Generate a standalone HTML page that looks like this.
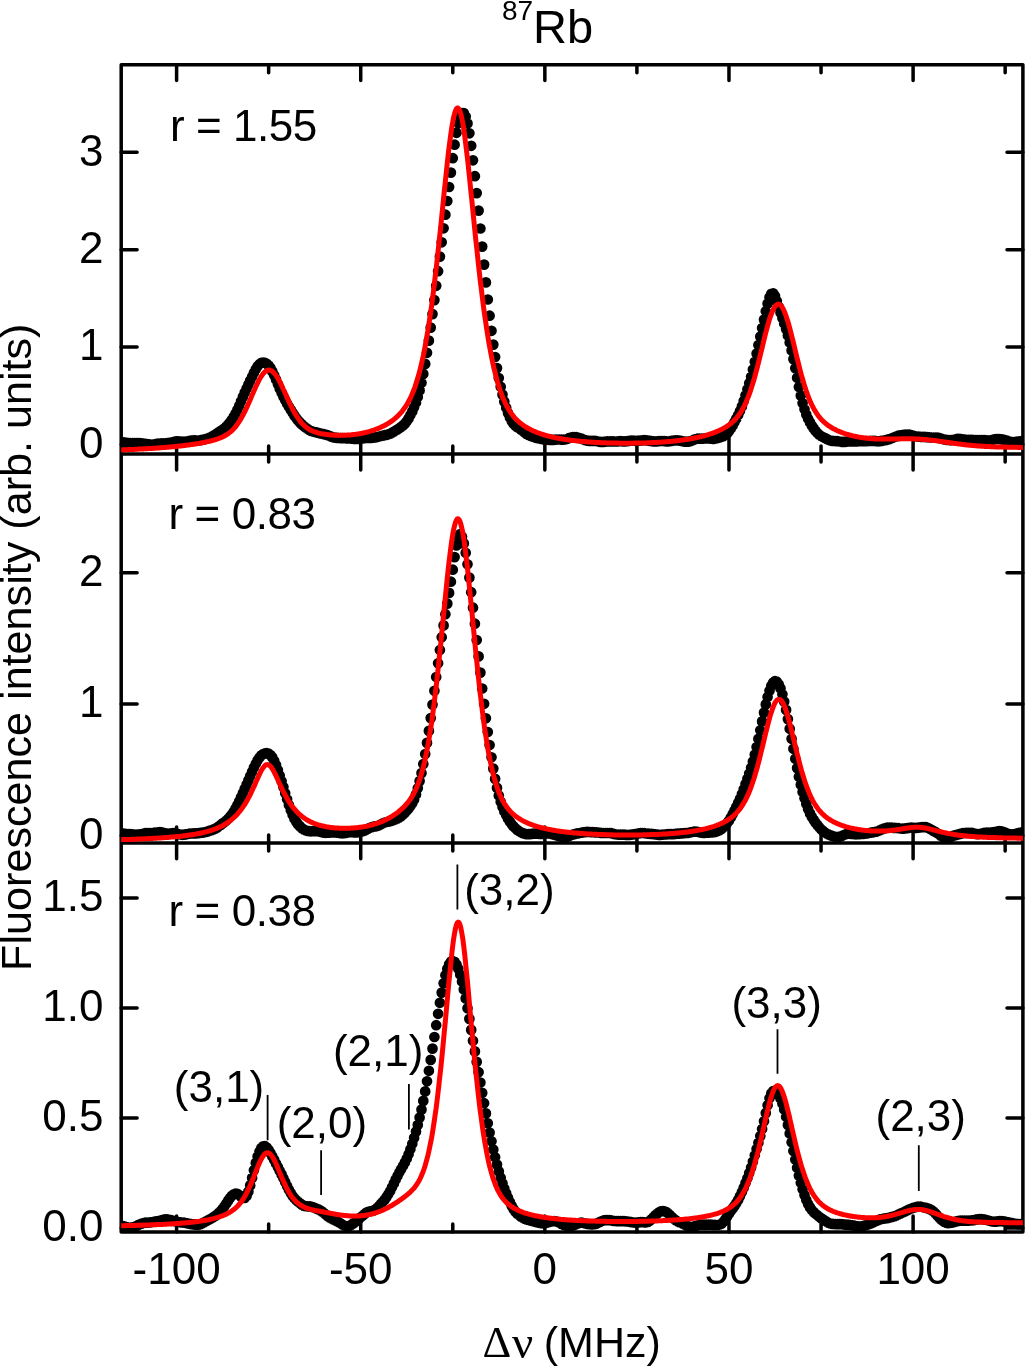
<!DOCTYPE html>
<html><head><meta charset="utf-8"><title>87Rb fluorescence spectra</title>
<style>html,body{margin:0;padding:0;background:#fff;overflow:hidden}svg{display:block}</style>
</head><body>
<svg width="1025" height="1367" viewBox="0 0 1025 1367">
<rect width="100%" height="100%" fill="#fff"/>
<defs><clipPath id="c0"><rect x="121.2" y="64.7" width="901.6999999999999" height="389.3"/></clipPath><clipPath id="c1"><rect x="121.2" y="454.0" width="901.6999999999999" height="388.9"/></clipPath><clipPath id="c2"><rect x="121.2" y="842.9" width="901.6999999999999" height="389.05000000000007"/></clipPath></defs>
<path d="M176.60 64.70v15.9M176.60 438.10v31.8M176.60 827.00v31.8M176.60 1216.05v15.9M268.66 64.70v8.0M268.66 446.00v16.0M268.66 834.90v16.0M268.66 1223.95v8.0M360.73 64.70v15.9M360.73 438.10v31.8M360.73 827.00v31.8M360.73 1216.05v15.9M452.79 64.70v8.0M452.79 446.00v16.0M452.79 834.90v16.0M452.79 1223.95v8.0M544.85 64.70v15.9M544.85 438.10v31.8M544.85 827.00v31.8M544.85 1216.05v15.9M636.91 64.70v8.0M636.91 446.00v16.0M636.91 834.90v16.0M636.91 1223.95v8.0M728.98 64.70v15.9M728.98 438.10v31.8M728.98 827.00v31.8M728.98 1216.05v15.9M821.04 64.70v8.0M821.04 446.00v16.0M821.04 834.90v16.0M821.04 1223.95v8.0M913.10 64.70v15.9M913.10 438.10v31.8M913.10 827.00v31.8M913.10 1216.05v15.9M1005.16 64.70v8.0M1005.16 446.00v16.0M1005.16 834.90v16.0M1005.16 1223.95v8.0M121.20 444.40h15.9M1022.90 444.40h-15.9M121.20 347.05h15.9M1022.90 347.05h-15.9M121.20 249.70h15.9M1022.90 249.70h-15.9M121.20 152.35h15.9M1022.90 152.35h-15.9M121.20 835.55h15.9M1022.90 835.55h-15.9M121.20 704.10h15.9M1022.90 704.10h-15.9M121.20 572.65h15.9M1022.90 572.65h-15.9M121.20 1227.95h15.9M1022.90 1227.95h-15.9M121.20 1117.95h15.9M1022.90 1117.95h-15.9M121.20 1007.95h15.9M1022.90 1007.95h-15.9M121.20 897.95h15.9M1022.90 897.95h-15.9" stroke="#000" stroke-width="3.5" stroke-linecap="round" fill="none"/>
<path d="M121.2 64.7H1022.9V1231.95H121.2Z M121.2 454.0H1022.9 M121.2 842.9H1022.9" stroke="#000" stroke-width="3.5" stroke-linejoin="round" fill="none"/>
<g clip-path="url(#c0)"><path d="M117.7 442.0h0M119.5 442.0h0M121.4 442.1h0M123.2 442.3h0M125.0 442.6h0M126.9 442.8h0M128.7 443.0h0M130.6 443.0h0M132.4 443.0h0M134.3 443.0h0M136.1 443.0h0M137.9 443.0h0M139.8 443.2h0M141.6 443.4h0M143.5 443.7h0M145.3 443.9h0M147.1 444.2h0M149.0 444.4h0M150.8 444.6h0M152.7 444.5h0M154.5 444.3h0M156.3 443.9h0M158.2 443.6h0M160.0 443.5h0M161.9 443.4h0M163.7 443.4h0M165.6 443.3h0M167.4 443.2h0M169.2 442.9h0M171.1 442.6h0M172.9 442.1h0M174.8 441.7h0M176.6 441.4h0M178.4 441.4h0M180.3 441.5h0M182.1 441.7h0M184.0 441.8h0M185.8 441.7h0M187.6 441.3h0M189.5 440.9h0M191.3 440.5h0M193.2 440.3h0M195.0 440.4h0M196.9 440.5h0M198.7 440.5h0M200.5 440.2h0M202.4 439.8h0M204.2 439.3h0M206.1 438.8h0M207.9 438.3h0M209.7 437.6h0M211.6 436.7h0M213.4 435.7h0M215.3 434.6h0M217.1 433.3h0M218.9 432.1h0M220.8 430.9h0M222.6 429.7h0M224.5 428.3h0M226.3 426.6h0M228.2 424.6h0M230.0 422.3h0M231.8 419.7h0M233.7 416.8h0M235.5 413.5h0M237.4 409.8h0M239.2 405.7h0M241.0 401.3h0M242.9 396.9h0M244.7 392.6h0M246.6 388.5h0M248.4 384.5h0M250.2 380.6h0M252.1 376.7h0M253.9 372.8h0M255.8 369.2h0M257.6 366.3h0M259.5 364.2h0M261.3 362.9h0M263.1 362.5h0M265.0 362.8h0M266.8 363.8h0M268.7 365.6h0M270.5 368.1h0M272.3 371.4h0M274.2 375.3h0M276.0 379.5h0M277.9 384.1h0M279.7 388.6h0M281.6 392.8h0M283.4 396.8h0M285.2 400.3h0M287.1 403.7h0M288.9 406.8h0M290.8 409.9h0M292.6 412.8h0M294.4 415.6h0M296.3 418.2h0M298.1 420.5h0M300.0 422.6h0M301.8 424.4h0M303.6 426.0h0M305.5 427.5h0M307.3 428.8h0M309.2 430.0h0M311.0 430.9h0M312.9 431.5h0M314.7 432.0h0M316.5 432.4h0M318.4 432.9h0M320.2 433.4h0M322.1 433.8h0M323.9 434.2h0M325.7 434.6h0M327.6 435.1h0M329.4 435.8h0M331.3 436.6h0M333.1 437.3h0M334.9 437.7h0M336.8 437.9h0M338.6 438.0h0M340.5 438.1h0M342.3 438.2h0M344.2 438.2h0M346.0 438.3h0M347.8 438.3h0M349.7 438.4h0M351.5 438.6h0M353.4 438.8h0M355.2 438.9h0M357.0 439.0h0M358.9 439.0h0M360.7 438.8h0M362.6 438.5h0M364.4 438.1h0M366.2 437.9h0M368.1 437.8h0M369.9 437.8h0M371.8 437.8h0M373.6 437.7h0M375.5 437.4h0M377.3 437.0h0M379.1 436.5h0M381.0 436.0h0M382.8 435.6h0M384.7 435.2h0M386.5 434.9h0M388.3 434.3h0M390.2 433.6h0M392.0 432.7h0M393.9 431.6h0M395.7 430.5h0M397.6 429.4h0M399.4 428.2h0M401.2 426.9h0M403.1 425.4h0M404.9 423.6h0M406.8 421.2h0M408.6 418.4h0M410.4 415.0h0M412.3 411.4h0M414.1 407.3h0M416.0 402.5h0M417.8 397.0h0M419.6 390.4h0M421.5 382.7h0M423.3 373.9h0M425.2 363.9h0M427.0 352.8h0M428.9 340.6h0M430.7 327.6h0M432.5 314.1h0M434.4 300.1h0M436.2 285.8h0M438.1 271.2h0M439.9 256.6h0M441.7 242.3h0M443.6 228.3h0M445.4 214.7h0M447.3 201.0h0M449.1 187.0h0M450.9 172.6h0M452.8 158.2h0M454.6 144.7h0M456.5 132.8h0M458.3 123.3h0M460.2 116.6h0M462.0 113.1h0M463.8 113.0h0M465.7 116.5h0M467.5 123.4h0M469.4 133.3h0M471.2 145.8h0M473.0 160.3h0M474.9 176.2h0M476.7 193.1h0M478.6 210.6h0M480.4 228.5h0M482.2 246.6h0M484.1 264.6h0M485.9 282.4h0M487.8 299.5h0M489.6 315.7h0M491.5 330.8h0M493.3 344.6h0M495.1 357.0h0M497.0 368.1h0M498.8 378.0h0M500.7 386.8h0M502.5 394.6h0M504.3 401.6h0M506.2 407.8h0M508.0 413.1h0M509.9 417.5h0M511.7 421.1h0M513.5 423.8h0M515.4 425.8h0M517.2 427.2h0M519.1 428.3h0M520.9 429.6h0M522.8 431.0h0M524.6 432.5h0M526.4 433.9h0M528.3 435.0h0M530.1 435.8h0M532.0 436.4h0M533.8 437.0h0M535.6 437.6h0M537.5 438.1h0M539.3 438.5h0M541.2 439.0h0M543.0 439.3h0M544.9 439.6h0M546.7 439.7h0M548.5 439.8h0M550.4 439.8h0M552.2 439.8h0M554.1 439.8h0M555.9 439.6h0M557.7 439.5h0M559.6 439.5h0M561.4 439.6h0M563.3 439.7h0M565.1 439.5h0M566.9 439.0h0M568.8 438.2h0M570.6 437.5h0M572.5 437.1h0M574.3 437.0h0M576.2 437.2h0M578.0 437.6h0M579.8 438.1h0M581.7 438.7h0M583.5 439.5h0M585.4 440.1h0M587.2 440.6h0M589.0 440.9h0M590.9 440.9h0M592.7 440.8h0M594.6 440.8h0M596.4 441.0h0M598.2 441.5h0M600.1 441.9h0M601.9 442.0h0M603.8 441.9h0M605.6 441.7h0M607.5 441.4h0M609.3 441.3h0M611.1 441.3h0M613.0 441.4h0M614.8 441.5h0M616.7 441.5h0M618.5 441.3h0M620.3 441.2h0M622.2 441.3h0M624.0 441.3h0M625.9 441.3h0M627.7 441.1h0M629.5 440.8h0M631.4 440.7h0M633.2 440.7h0M635.1 440.8h0M636.9 440.8h0M638.8 440.6h0M640.6 440.5h0M642.4 440.3h0M644.3 440.2h0M646.1 440.3h0M648.0 440.5h0M649.8 440.9h0M651.6 441.2h0M653.5 441.4h0M655.3 441.5h0M657.2 441.3h0M659.0 441.1h0M660.8 441.0h0M662.7 441.0h0M664.5 441.2h0M666.4 441.4h0M668.2 441.5h0M670.1 441.2h0M671.9 440.9h0M673.7 440.5h0M675.6 440.3h0M677.4 440.3h0M679.3 440.5h0M681.1 440.9h0M682.9 441.3h0M684.8 441.6h0M686.6 441.7h0M688.5 441.6h0M690.3 441.2h0M692.2 440.5h0M694.0 439.7h0M695.8 439.0h0M697.7 438.6h0M699.5 438.6h0M701.4 438.7h0M703.2 438.6h0M705.0 438.5h0M706.9 438.5h0M708.7 438.5h0M710.6 438.7h0M712.4 438.8h0M714.2 438.8h0M716.1 438.5h0M717.9 438.0h0M719.8 437.5h0M721.6 436.8h0M723.5 436.1h0M725.3 435.0h0M727.1 433.4h0M729.0 431.3h0M730.8 428.5h0M732.7 425.4h0M734.5 422.1h0M736.3 418.6h0M738.2 415.0h0M740.0 411.0h0M741.9 406.4h0M743.7 401.1h0M745.5 395.3h0M747.4 389.3h0M749.2 383.2h0M751.1 376.7h0M752.9 369.6h0M754.8 361.8h0M756.6 353.6h0M758.4 345.1h0M760.3 336.6h0M762.1 328.1h0M764.0 319.6h0M765.8 311.3h0M767.6 303.6h0M769.5 297.4h0M771.3 293.8h0M773.2 293.3h0M775.0 296.1h0M776.8 301.0h0M778.7 306.8h0M780.5 312.6h0M782.4 318.1h0M784.2 323.4h0M786.1 329.1h0M787.9 335.4h0M789.7 342.5h0M791.6 350.4h0M793.4 359.1h0M795.3 368.3h0M797.1 377.8h0M798.9 387.0h0M800.8 395.6h0M802.6 403.1h0M804.5 409.3h0M806.3 414.5h0M808.1 418.8h0M810.0 422.4h0M811.8 425.6h0M813.7 428.4h0M815.5 430.9h0M817.4 433.0h0M819.2 434.7h0M821.0 436.0h0M822.9 437.0h0M824.7 437.9h0M826.6 438.9h0M828.4 439.8h0M830.2 440.5h0M832.1 440.9h0M833.9 441.0h0M835.8 441.1h0M837.6 441.2h0M839.5 441.5h0M841.3 441.8h0M843.1 441.9h0M845.0 441.9h0M846.8 441.7h0M848.7 441.5h0M850.5 441.3h0M852.3 441.3h0M854.2 441.3h0M856.0 441.3h0M857.9 441.3h0M859.7 441.2h0M861.5 441.2h0M863.4 441.2h0M865.2 441.2h0M867.1 441.2h0M868.9 441.0h0M870.8 440.8h0M872.6 440.8h0M874.4 440.9h0M876.3 441.1h0M878.1 441.3h0M880.0 441.2h0M881.8 440.9h0M883.6 440.5h0M885.5 440.1h0M887.3 439.6h0M889.2 439.1h0M891.0 438.5h0M892.8 437.8h0M894.7 437.0h0M896.5 436.3h0M898.4 435.7h0M900.2 435.4h0M902.1 435.0h0M903.9 434.8h0M905.7 434.6h0M907.6 434.6h0M909.4 434.7h0M911.3 435.1h0M913.1 435.6h0M914.9 436.1h0M916.8 436.5h0M918.6 436.7h0M920.5 436.8h0M922.3 436.8h0M924.1 436.9h0M926.0 437.1h0M927.8 437.2h0M929.7 437.3h0M931.5 437.5h0M933.4 437.5h0M935.2 437.6h0M937.0 437.6h0M938.9 437.9h0M940.7 438.4h0M942.6 439.0h0M944.4 439.5h0M946.2 439.8h0M948.1 440.0h0M949.9 440.1h0M951.8 440.1h0M953.6 439.8h0M955.4 439.3h0M957.3 438.9h0M959.1 438.8h0M961.0 439.1h0M962.8 439.4h0M964.7 439.7h0M966.5 439.8h0M968.3 439.8h0M970.2 439.8h0M972.0 439.9h0M973.9 440.0h0M975.7 440.1h0M977.5 440.2h0M979.4 440.2h0M981.2 440.2h0M983.1 440.1h0M984.9 440.1h0M986.8 440.3h0M988.6 440.5h0M990.4 440.3h0M992.3 439.9h0M994.1 439.4h0M996.0 439.0h0M997.8 439.0h0M999.6 439.1h0M1001.5 439.4h0M1003.3 439.6h0M1005.2 440.0h0M1007.0 440.6h0M1008.8 441.3h0M1010.7 441.9h0M1012.5 442.1h0M1014.4 442.1h0M1016.2 441.8h0M1018.1 441.5h0M1019.9 441.3h0M1021.7 441.2h0M1023.6 441.2h0M1025.4 441.3h0" stroke="#000" stroke-width="10.7" stroke-linecap="round" fill="none"/>
<path d="M117.5 450.1 118.4 450.0 119.4 450.0 120.3 450.0 121.2 449.9 122.1 449.9 123.0 449.8 124.0 449.8 124.9 449.8 125.8 449.7 126.7 449.7 127.6 449.7 128.6 449.6 129.5 449.6 130.4 449.5 131.3 449.5 132.2 449.5 133.2 449.4 134.1 449.4 135.0 449.3 135.9 449.3 136.9 449.2 137.8 449.2 138.7 449.1 139.6 449.1 140.5 449.0 141.5 449.0 142.4 448.9 143.3 448.9 144.2 448.8 145.1 448.8 146.1 448.7 147.0 448.7 147.9 448.6 148.8 448.6 149.7 448.5 150.7 448.5 151.6 448.4 152.5 448.4 153.4 448.3 154.3 448.2 155.3 448.2 156.2 448.1 157.1 448.0 158.0 448.0 158.9 447.9 159.9 447.8 160.8 447.8 161.7 447.7 162.6 447.6 163.5 447.6 164.5 447.5 165.4 447.4 166.3 447.3 167.2 447.3 168.2 447.2 169.1 447.1 170.0 447.0 170.9 446.9 171.8 446.8 172.8 446.8 173.7 446.7 174.6 446.6 175.5 446.5 176.4 446.4 177.4 446.3 178.3 446.2 179.2 446.1 180.1 446.0 181.0 445.9 182.0 445.8 182.9 445.7 183.8 445.6 184.7 445.5 185.6 445.3 186.6 445.2 187.5 445.1 188.4 445.0 189.3 444.9 190.2 444.7 191.2 444.6 192.1 444.5 193.0 444.3 193.9 444.2 194.9 444.0 195.8 443.9 196.7 443.8 197.6 443.6 198.5 443.4 199.5 443.3 200.4 443.1 201.3 443.0 202.2 442.8 203.1 442.6 204.1 442.4 205.0 442.2 205.9 442.0 206.8 441.8 207.7 441.6 208.7 441.4 209.6 441.2 210.5 441.0 211.4 440.8 212.3 440.5 213.3 440.3 214.2 440.0 215.1 439.7 216.0 439.5 216.9 439.2 217.9 438.8 218.8 438.5 219.7 438.2 220.6 437.8 221.5 437.4 222.5 437.0 223.4 436.5 224.3 436.0 225.2 435.5 226.2 435.0 227.1 434.4 228.0 433.8 228.9 433.1 229.8 432.4 230.8 431.6 231.7 430.8 232.6 429.9 233.5 429.0 234.4 428.0 235.4 426.9 236.3 425.7 237.2 424.5 238.1 423.2 239.0 421.8 240.0 420.4 240.9 418.8 241.8 417.2 242.7 415.6 243.6 413.8 244.6 412.0 245.5 410.1 246.4 408.1 247.3 406.1 248.2 404.1 249.2 402.0 250.1 399.9 251.0 397.8 251.9 395.6 252.8 393.5 253.8 391.3 254.7 389.2 255.6 387.2 256.5 385.2 257.5 383.3 258.4 381.4 259.3 379.7 260.2 378.0 261.1 376.5 262.1 375.1 263.0 373.9 263.9 372.8 264.8 371.9 265.7 371.2 266.7 370.6 267.6 370.3 268.5 370.1 269.4 370.1 270.3 370.3 271.3 370.7 272.2 371.2 273.1 372.0 274.0 372.9 274.9 374.0 275.9 375.2 276.8 376.6 277.7 378.0 278.6 379.7 279.5 381.4 280.5 383.2 281.4 385.0 282.3 387.0 283.2 389.0 284.2 391.0 285.1 393.0 286.0 395.1 286.9 397.1 287.8 399.1 288.8 401.2 289.7 403.1 290.6 405.0 291.5 406.9 292.4 408.7 293.4 410.5 294.3 412.2 295.2 413.8 296.1 415.3 297.0 416.8 298.0 418.1 298.9 419.4 299.8 420.7 300.7 421.8 301.6 422.9 302.6 423.9 303.5 424.8 304.4 425.7 305.3 426.5 306.2 427.3 307.2 428.0 308.1 428.6 309.0 429.2 309.9 429.7 310.8 430.2 311.8 430.7 312.7 431.1 313.6 431.5 314.5 431.8 315.5 432.1 316.4 432.4 317.3 432.7 318.2 433.0 319.1 433.2 320.1 433.4 321.0 433.6 321.9 433.8 322.8 433.9 323.7 434.1 324.7 434.2 325.6 434.4 326.5 434.5 327.4 434.6 328.3 434.7 329.3 434.8 330.2 434.9 331.1 434.9 332.0 435.0 332.9 435.1 333.9 435.1 334.8 435.2 335.7 435.2 336.6 435.2 337.5 435.3 338.5 435.3 339.4 435.3 340.3 435.3 341.2 435.3 342.1 435.3 343.1 435.3 344.0 435.2 344.9 435.2 345.8 435.2 346.8 435.1 347.7 435.1 348.6 435.0 349.5 435.0 350.4 434.9 351.4 434.8 352.3 434.7 353.2 434.6 354.1 434.5 355.0 434.4 356.0 434.3 356.9 434.1 357.8 434.0 358.7 433.9 359.6 433.7 360.6 433.5 361.5 433.4 362.4 433.2 363.3 433.0 364.2 432.8 365.2 432.6 366.1 432.3 367.0 432.1 367.9 431.9 368.8 431.6 369.8 431.4 370.7 431.1 371.6 430.8 372.5 430.5 373.5 430.2 374.4 429.9 375.3 429.5 376.2 429.2 377.1 428.8 378.1 428.5 379.0 428.1 379.9 427.7 380.8 427.3 381.7 426.8 382.7 426.4 383.6 425.9 384.5 425.5 385.4 425.0 386.3 424.5 387.3 423.9 388.2 423.4 389.1 422.8 390.0 422.2 390.9 421.6 391.9 420.9 392.8 420.3 393.7 419.6 394.6 418.8 395.5 418.0 396.5 417.2 397.4 416.4 398.3 415.5 399.2 414.6 400.1 413.6 401.1 412.6 402.0 411.5 402.9 410.3 403.8 409.1 404.8 407.8 405.7 406.4 406.6 405.0 407.5 403.4 408.4 401.8 409.4 400.1 410.3 398.2 411.2 396.3 412.1 394.2 413.0 391.9 414.0 389.6 414.9 387.1 415.8 384.4 416.7 381.6 417.6 378.5 418.6 375.3 419.5 371.9 420.4 368.3 421.3 364.5 422.2 360.5 423.2 356.2 424.1 351.7 425.0 347.0 425.9 342.0 426.8 336.7 427.8 331.2 428.7 325.4 429.6 319.4 430.5 313.1 431.5 306.5 432.4 299.6 433.3 292.5 434.2 285.1 435.1 277.4 436.1 269.5 437.0 261.4 437.9 253.1 438.8 244.6 439.7 235.9 440.7 227.0 441.6 218.1 442.5 209.1 443.4 200.0 444.3 191.0 445.3 182.1 446.2 173.3 447.1 164.8 448.0 156.5 448.9 148.6 449.9 141.2 450.8 134.4 451.7 128.1 452.6 122.6 453.5 117.8 454.5 114.0 455.4 111.0 456.3 109.0 457.2 108.1 458.1 108.1 459.1 109.2 460.0 111.3 460.9 114.3 461.8 118.3 462.8 123.2 463.7 128.8 464.6 135.2 465.5 142.2 466.4 149.7 467.4 157.7 468.3 166.0 469.2 174.7 470.1 183.6 471.0 192.6 472.0 201.7 472.9 210.9 473.8 220.0 474.7 229.1 475.6 238.0 476.6 246.8 477.5 255.4 478.4 263.9 479.3 272.1 480.2 280.1 481.2 287.9 482.1 295.4 483.0 302.6 483.9 309.6 484.8 316.2 485.8 322.7 486.7 328.8 487.6 334.7 488.5 340.3 489.4 345.6 490.4 350.7 491.3 355.5 492.2 360.1 493.1 364.4 494.1 368.5 495.0 372.4 495.9 376.1 496.8 379.5 497.7 382.8 498.7 385.9 499.6 388.8 500.5 391.5 501.4 394.0 502.3 396.4 503.3 398.7 504.2 400.8 505.1 402.8 506.0 404.7 506.9 406.4 507.9 408.1 508.8 409.7 509.7 411.1 510.6 412.5 511.5 413.8 512.5 415.0 513.4 416.2 514.3 417.3 515.2 418.3 516.1 419.3 517.1 420.2 518.0 421.1 518.9 421.9 519.8 422.7 520.8 423.4 521.7 424.1 522.6 424.8 523.5 425.5 524.4 426.1 525.4 426.7 526.3 427.2 527.2 427.8 528.1 428.3 529.0 428.8 530.0 429.3 530.9 429.8 531.8 430.2 532.7 430.6 533.6 431.0 534.6 431.4 535.5 431.8 536.4 432.2 537.3 432.6 538.2 432.9 539.2 433.2 540.1 433.6 541.0 433.9 541.9 434.2 542.8 434.5 543.8 434.8 544.7 435.0 545.6 435.3 546.5 435.6 547.4 435.8 548.4 436.1 549.3 436.3 550.2 436.5 551.1 436.7 552.1 437.0 553.0 437.2 553.9 437.4 554.8 437.6 555.7 437.8 556.7 437.9 557.6 438.1 558.5 438.3 559.4 438.5 560.3 438.6 561.3 438.8 562.2 439.0 563.1 439.1 564.0 439.3 564.9 439.4 565.9 439.5 566.8 439.7 567.7 439.8 568.6 439.9 569.5 440.1 570.5 440.2 571.4 440.3 572.3 440.4 573.2 440.5 574.1 440.6 575.1 440.7 576.0 440.8 576.9 440.9 577.8 441.0 578.8 441.1 579.7 441.2 580.6 441.3 581.5 441.4 582.4 441.5 583.4 441.5 584.3 441.6 585.2 441.7 586.1 441.8 587.0 441.8 588.0 441.9 588.9 442.0 589.8 442.0 590.7 442.1 591.6 442.2 592.6 442.2 593.5 442.3 594.4 442.3 595.3 442.4 596.2 442.4 597.2 442.5 598.1 442.5 599.0 442.6 599.9 442.6 600.8 442.7 601.8 442.7 602.7 442.7 603.6 442.8 604.5 442.8 605.4 442.8 606.4 442.9 607.3 442.9 608.2 442.9 609.1 443.0 610.1 443.0 611.0 443.0 611.9 443.0 612.8 443.1 613.7 443.1 614.7 443.1 615.6 443.1 616.5 443.1 617.4 443.1 618.3 443.1 619.3 443.2 620.2 443.2 621.1 443.2 622.0 443.2 622.9 443.2 623.9 443.2 624.8 443.2 625.7 443.2 626.6 443.2 627.5 443.2 628.5 443.2 629.4 443.2 630.3 443.2 631.2 443.2 632.1 443.2 633.1 443.2 634.0 443.1 634.9 443.1 635.8 443.1 636.8 443.1 637.7 443.1 638.6 443.1 639.5 443.1 640.4 443.0 641.4 443.0 642.3 443.0 643.2 443.0 644.1 442.9 645.0 442.9 646.0 442.9 646.9 442.8 647.8 442.8 648.7 442.8 649.6 442.7 650.6 442.7 651.5 442.7 652.4 442.6 653.3 442.6 654.2 442.5 655.2 442.5 656.1 442.4 657.0 442.4 657.9 442.3 658.8 442.3 659.8 442.2 660.7 442.2 661.6 442.1 662.5 442.0 663.4 442.0 664.4 441.9 665.3 441.8 666.2 441.8 667.1 441.7 668.1 441.6 669.0 441.5 669.9 441.4 670.8 441.4 671.7 441.3 672.7 441.2 673.6 441.1 674.5 441.0 675.4 440.9 676.3 440.8 677.3 440.7 678.2 440.6 679.1 440.5 680.0 440.4 680.9 440.2 681.9 440.1 682.8 440.0 683.7 439.9 684.6 439.7 685.5 439.6 686.5 439.5 687.4 439.3 688.3 439.2 689.2 439.0 690.1 438.9 691.1 438.7 692.0 438.5 692.9 438.4 693.8 438.2 694.7 438.0 695.7 437.8 696.6 437.6 697.5 437.4 698.4 437.2 699.4 437.0 700.3 436.8 701.2 436.6 702.1 436.4 703.0 436.1 704.0 435.9 704.9 435.6 705.8 435.4 706.7 435.1 707.6 434.8 708.6 434.5 709.5 434.2 710.4 433.9 711.3 433.6 712.2 433.3 713.2 433.0 714.1 432.6 715.0 432.3 715.9 431.9 716.8 431.5 717.8 431.1 718.7 430.7 719.6 430.3 720.5 429.9 721.4 429.4 722.4 428.9 723.3 428.4 724.2 427.9 725.1 427.4 726.1 426.8 727.0 426.2 727.9 425.6 728.8 425.0 729.7 424.3 730.7 423.6 731.6 422.8 732.5 422.0 733.4 421.2 734.3 420.3 735.3 419.3 736.2 418.3 737.1 417.2 738.0 416.1 738.9 414.8 739.9 413.5 740.8 412.1 741.7 410.7 742.6 409.1 743.5 407.4 744.5 405.6 745.4 403.6 746.3 401.6 747.2 399.4 748.1 397.1 749.1 394.7 750.0 392.2 750.9 389.5 751.8 386.6 752.7 383.7 753.7 380.6 754.6 377.3 755.5 374.0 756.4 370.6 757.4 367.0 758.3 363.4 759.2 359.7 760.1 355.9 761.0 352.1 762.0 348.3 762.9 344.5 763.8 340.7 764.7 337.0 765.6 333.3 766.6 329.7 767.5 326.3 768.4 323.0 769.3 320.0 770.2 317.1 771.2 314.5 772.1 312.1 773.0 310.0 773.9 308.2 774.8 306.7 775.8 305.5 776.7 304.7 777.6 304.3 778.5 304.1 779.4 304.4 780.4 305.0 781.3 305.9 782.2 307.2 783.1 308.8 784.0 310.8 785.0 313.0 785.9 315.5 786.8 318.2 787.7 321.1 788.7 324.3 789.6 327.6 790.5 331.1 791.4 334.7 792.3 338.4 793.3 342.2 794.2 346.0 795.1 349.8 796.0 353.6 796.9 357.4 797.9 361.2 798.8 364.9 799.7 368.5 800.6 372.0 801.5 375.4 802.5 378.7 803.4 381.9 804.3 384.9 805.2 387.9 806.1 390.6 807.1 393.3 808.0 395.8 808.9 398.2 809.8 400.4 810.7 402.6 811.7 404.6 812.6 406.4 813.5 408.2 814.4 409.9 815.4 411.4 816.3 412.9 817.2 414.2 818.1 415.5 819.0 416.7 820.0 417.9 820.9 418.9 821.8 419.9 822.7 420.8 823.6 421.7 824.6 422.6 825.5 423.3 826.4 424.1 827.3 424.8 828.2 425.5 829.2 426.1 830.1 426.7 831.0 427.3 831.9 427.8 832.8 428.4 833.8 428.9 834.7 429.3 835.6 429.8 836.5 430.3 837.4 430.7 838.4 431.1 839.3 431.5 840.2 431.9 841.1 432.2 842.0 432.6 843.0 432.9 843.9 433.3 844.8 433.6 845.7 433.9 846.7 434.2 847.6 434.4 848.5 434.7 849.4 435.0 850.3 435.2 851.3 435.5 852.2 435.7 853.1 435.9 854.0 436.1 854.9 436.3 855.9 436.5 856.8 436.7 857.7 436.9 858.6 437.1 859.5 437.2 860.5 437.4 861.4 437.5 862.3 437.6 863.2 437.8 864.1 437.9 865.1 438.0 866.0 438.1 866.9 438.2 867.8 438.3 868.7 438.4 869.7 438.5 870.6 438.6 871.5 438.6 872.4 438.7 873.4 438.8 874.3 438.8 875.2 438.9 876.1 438.9 877.0 438.9 878.0 439.0 878.9 439.0 879.8 439.0 880.7 439.0 881.6 439.1 882.6 439.1 883.5 439.1 884.4 439.1 885.3 439.1 886.2 439.1 887.2 439.1 888.1 439.1 889.0 439.1 889.9 439.0 890.8 439.0 891.8 439.0 892.7 439.0 893.6 439.0 894.5 439.0 895.4 438.9 896.4 438.9 897.3 438.9 898.2 438.9 899.1 438.9 900.0 438.9 901.0 438.8 901.9 438.8 902.8 438.8 903.7 438.8 904.7 438.8 905.6 438.8 906.5 438.8 907.4 438.8 908.3 438.8 909.3 438.8 910.2 438.8 911.1 438.8 912.0 438.8 912.9 438.8 913.9 438.9 914.8 438.9 915.7 438.9 916.6 439.0 917.5 439.0 918.5 439.1 919.4 439.1 920.3 439.2 921.2 439.2 922.1 439.3 923.1 439.4 924.0 439.4 924.9 439.5 925.8 439.6 926.7 439.7 927.7 439.8 928.6 439.9 929.5 440.0 930.4 440.1 931.4 440.2 932.3 440.3 933.2 440.4 934.1 440.5 935.0 440.6 936.0 440.7 936.9 440.9 937.8 441.0 938.7 441.1 939.6 441.2 940.6 441.4 941.5 441.5 942.4 441.6 943.3 441.8 944.2 441.9 945.2 442.0 946.1 442.2 947.0 442.3 947.9 442.4 948.8 442.6 949.8 442.7 950.7 442.8 951.6 443.0 952.5 443.1 953.4 443.2 954.4 443.4 955.3 443.5 956.2 443.6 957.1 443.7 958.0 443.9 959.0 444.0 959.9 444.1 960.8 444.2 961.7 444.3 962.7 444.4 963.6 444.6 964.5 444.7 965.4 444.8 966.3 444.9 967.3 445.0 968.2 445.1 969.1 445.2 970.0 445.3 970.9 445.3 971.9 445.4 972.8 445.5 973.7 445.6 974.6 445.7 975.5 445.8 976.5 445.8 977.4 445.9 978.3 446.0 979.2 446.0 980.1 446.1 981.1 446.2 982.0 446.2 982.9 446.3 983.8 446.3 984.7 446.4 985.7 446.4 986.6 446.5 987.5 446.5 988.4 446.6 989.3 446.6 990.3 446.7 991.2 446.7 992.1 446.7 993.0 446.8 994.0 446.8 994.9 446.8 995.8 446.9 996.7 446.9 997.6 446.9 998.6 447.0 999.5 447.0 1000.4 447.0 1001.3 447.0 1002.2 447.1 1003.2 447.1 1004.1 447.1 1005.0 447.1 1005.9 447.2 1006.8 447.2 1007.8 447.2 1008.7 447.2 1009.6 447.2 1010.5 447.2 1011.4 447.3 1012.4 447.3 1013.3 447.3 1014.2 447.3 1015.1 447.3 1016.0 447.3 1017.0 447.3 1017.9 447.4 1018.8 447.4 1019.7 447.4 1020.7 447.4 1021.6 447.4 1022.5 447.4 1023.4 447.4 1024.3 447.4 1025.3 447.4 1026.2 447.5" stroke="#f00" stroke-width="5" stroke-linejoin="round" fill="none"/></g>
<g clip-path="url(#c1)"><path d="M117.7 833.8h0M119.5 833.5h0M121.4 833.4h0M123.2 833.6h0M125.0 833.9h0M126.9 834.0h0M128.7 834.1h0M130.6 834.1h0M132.4 834.3h0M134.3 834.5h0M136.1 834.7h0M137.9 834.6h0M139.8 834.4h0M141.6 834.0h0M143.5 833.5h0M145.3 833.2h0M147.1 833.1h0M149.0 833.1h0M150.8 833.1h0M152.7 833.0h0M154.5 832.7h0M156.3 832.5h0M158.2 832.3h0M160.0 832.2h0M161.9 832.4h0M163.7 832.9h0M165.6 833.3h0M167.4 833.5h0M169.2 833.5h0M171.1 833.3h0M172.9 833.2h0M174.8 833.2h0M176.6 833.5h0M178.4 834.0h0M180.3 834.5h0M182.1 834.8h0M184.0 834.7h0M185.8 834.4h0M187.6 834.0h0M189.5 833.7h0M191.3 833.5h0M193.2 833.4h0M195.0 833.4h0M196.9 833.3h0M198.7 833.1h0M200.5 832.8h0M202.4 832.6h0M204.2 832.3h0M206.1 831.9h0M207.9 831.4h0M209.7 830.7h0M211.6 830.1h0M213.4 829.4h0M215.3 828.7h0M217.1 827.6h0M218.9 826.3h0M220.8 824.9h0M222.6 823.4h0M224.5 822.0h0M226.3 820.5h0M228.2 818.8h0M230.0 816.8h0M231.8 814.5h0M233.7 811.7h0M235.5 808.6h0M237.4 805.1h0M239.2 801.3h0M241.0 797.2h0M242.9 793.0h0M244.7 788.9h0M246.6 784.6h0M248.4 780.4h0M250.2 776.0h0M252.1 771.7h0M253.9 767.5h0M255.8 763.7h0M257.6 760.3h0M259.5 757.5h0M261.3 755.4h0M263.1 754.1h0M265.0 753.4h0M266.8 753.2h0M268.7 753.7h0M270.5 755.1h0M272.3 757.4h0M274.2 760.8h0M276.0 765.1h0M277.9 770.0h0M279.7 775.5h0M281.6 781.2h0M283.4 787.1h0M285.2 793.2h0M287.1 799.2h0M288.9 805.0h0M290.8 810.2h0M292.6 814.8h0M294.4 818.7h0M296.3 821.9h0M298.1 824.4h0M300.0 826.4h0M301.8 828.1h0M303.6 829.4h0M305.5 830.3h0M307.3 830.9h0M309.2 831.2h0M311.0 831.3h0M312.9 831.2h0M314.7 831.1h0M316.5 831.1h0M318.4 831.3h0M320.2 831.8h0M322.1 832.3h0M323.9 832.6h0M325.7 832.8h0M327.6 832.7h0M329.4 832.6h0M331.3 832.5h0M333.1 832.5h0M334.9 832.5h0M336.8 832.6h0M338.6 832.8h0M340.5 833.1h0M342.3 833.3h0M344.2 833.2h0M346.0 832.9h0M347.8 832.5h0M349.7 832.2h0M351.5 832.1h0M353.4 832.3h0M355.2 832.4h0M357.0 832.4h0M358.9 832.1h0M360.7 831.8h0M362.6 831.3h0M364.4 830.6h0M366.2 829.8h0M368.1 828.8h0M369.9 827.8h0M371.8 827.1h0M373.6 826.7h0M375.5 826.4h0M377.3 826.0h0M379.1 825.3h0M381.0 824.3h0M382.8 823.3h0M384.7 822.5h0M386.5 822.0h0M388.3 821.6h0M390.2 821.1h0M392.0 820.6h0M393.9 819.9h0M395.7 819.3h0M397.6 818.5h0M399.4 817.5h0M401.2 816.2h0M403.1 814.5h0M404.9 812.6h0M406.8 810.5h0M408.6 808.4h0M410.4 806.0h0M412.3 803.2h0M414.1 799.4h0M416.0 794.4h0M417.8 788.3h0M419.6 781.1h0M421.5 773.1h0M423.3 764.0h0M425.2 754.0h0M427.0 742.9h0M428.9 730.9h0M430.7 718.1h0M432.5 704.6h0M434.4 690.8h0M436.2 677.0h0M438.1 663.3h0M439.9 650.0h0M441.7 637.3h0M443.6 625.4h0M445.4 614.2h0M447.3 603.6h0M449.1 592.9h0M450.9 581.7h0M452.8 569.7h0M454.6 557.1h0M456.5 545.4h0M458.3 536.9h0M460.2 534.1h0M462.0 536.7h0M463.8 543.4h0M465.7 552.8h0M467.5 564.3h0M469.4 577.6h0M471.2 592.2h0M473.0 607.7h0M474.9 623.7h0M476.7 640.0h0M478.6 656.4h0M480.4 672.6h0M482.2 688.5h0M484.1 703.8h0M485.9 718.3h0M487.8 732.0h0M489.6 745.0h0M491.5 757.3h0M493.3 768.6h0M495.1 778.9h0M497.0 787.9h0M498.8 795.5h0M500.7 801.7h0M502.5 806.9h0M504.3 811.4h0M506.2 815.3h0M508.0 818.8h0M509.9 821.7h0M511.7 824.2h0M513.5 826.4h0M515.4 828.3h0M517.2 829.9h0M519.1 831.2h0M520.9 832.3h0M522.8 833.1h0M524.6 833.7h0M526.4 834.1h0M528.3 834.2h0M530.1 834.1h0M532.0 833.9h0M533.8 833.7h0M535.6 833.6h0M537.5 833.7h0M539.3 833.9h0M541.2 834.0h0M543.0 833.9h0M544.9 833.7h0M546.7 833.5h0M548.5 833.4h0M550.4 833.6h0M552.2 834.1h0M554.1 834.6h0M555.9 835.2h0M557.7 835.8h0M559.6 836.3h0M561.4 836.8h0M563.3 837.1h0M565.1 837.2h0M566.9 836.8h0M568.8 836.1h0M570.6 835.3h0M572.5 834.6h0M574.3 834.1h0M576.2 833.7h0M578.0 833.4h0M579.8 833.0h0M581.7 832.7h0M583.5 832.3h0M585.4 832.1h0M587.2 831.9h0M589.0 832.0h0M590.9 832.1h0M592.7 832.2h0M594.6 832.3h0M596.4 832.3h0M598.2 832.5h0M600.1 832.8h0M601.9 833.0h0M603.8 833.0h0M605.6 833.0h0M607.5 833.0h0M609.3 833.0h0M611.1 833.2h0M613.0 833.7h0M614.8 834.1h0M616.7 834.5h0M618.5 834.6h0M620.3 834.6h0M622.2 834.6h0M624.0 834.7h0M625.9 834.9h0M627.7 835.0h0M629.5 834.9h0M631.4 834.7h0M633.2 834.4h0M635.1 834.1h0M636.9 833.8h0M638.8 833.4h0M640.6 833.0h0M642.4 833.0h0M644.3 833.2h0M646.1 833.5h0M648.0 833.7h0M649.8 833.8h0M651.6 833.9h0M653.5 834.1h0M655.3 834.4h0M657.2 834.7h0M659.0 834.9h0M660.8 834.8h0M662.7 834.7h0M664.5 834.5h0M666.4 834.4h0M668.2 834.2h0M670.1 834.2h0M671.9 834.2h0M673.7 834.1h0M675.6 833.9h0M677.4 833.7h0M679.3 833.6h0M681.1 833.4h0M682.9 833.3h0M684.8 833.2h0M686.6 833.0h0M688.5 832.8h0M690.3 832.4h0M692.2 832.0h0M694.0 831.7h0M695.8 831.6h0M697.7 831.8h0M699.5 832.3h0M701.4 832.7h0M703.2 832.9h0M705.0 832.8h0M706.9 832.7h0M708.7 832.6h0M710.6 832.5h0M712.4 832.3h0M714.2 832.1h0M716.1 831.7h0M717.9 831.0h0M719.8 830.1h0M721.6 828.9h0M723.5 827.3h0M725.3 825.4h0M727.1 823.2h0M729.0 820.6h0M730.8 817.5h0M732.7 814.1h0M734.5 810.5h0M736.3 806.8h0M738.2 802.9h0M740.0 798.7h0M741.9 794.1h0M743.7 789.2h0M745.5 784.1h0M747.4 778.9h0M749.2 773.5h0M751.1 767.7h0M752.9 761.5h0M754.8 754.6h0M756.6 747.0h0M758.4 738.9h0M760.3 730.3h0M762.1 721.4h0M764.0 712.6h0M765.8 704.4h0M767.6 697.0h0M769.5 690.7h0M771.3 685.8h0M773.2 682.5h0M775.0 681.1h0M776.8 681.7h0M778.7 684.2h0M780.5 688.4h0M782.4 694.3h0M784.2 701.6h0M786.1 709.9h0M787.9 719.1h0M789.7 728.8h0M791.6 738.8h0M793.4 748.8h0M795.3 758.7h0M797.1 768.1h0M798.9 776.8h0M800.8 784.7h0M802.6 791.9h0M804.5 798.3h0M806.3 804.0h0M808.1 809.1h0M810.0 813.4h0M811.8 816.9h0M813.7 819.9h0M815.5 822.6h0M817.4 825.1h0M819.2 827.3h0M821.0 829.3h0M822.9 830.9h0M824.7 832.3h0M826.6 833.5h0M828.4 834.4h0M830.2 835.2h0M832.1 835.9h0M833.9 836.5h0M835.8 836.9h0M837.6 837.0h0M839.5 836.7h0M841.3 836.1h0M843.1 835.3h0M845.0 834.5h0M846.8 833.9h0M848.7 833.7h0M850.5 833.8h0M852.3 834.0h0M854.2 834.2h0M856.0 834.3h0M857.9 834.2h0M859.7 834.1h0M861.5 834.0h0M863.4 833.9h0M865.2 833.7h0M867.1 833.4h0M868.9 833.0h0M870.8 832.7h0M872.6 832.4h0M874.4 832.0h0M876.3 831.6h0M878.1 831.0h0M880.0 830.2h0M881.8 829.4h0M883.6 828.6h0M885.5 828.1h0M887.3 827.7h0M889.2 827.7h0M891.0 827.7h0M892.8 827.8h0M894.7 827.9h0M896.5 828.0h0M898.4 828.2h0M900.2 828.5h0M902.1 828.7h0M903.9 828.6h0M905.7 828.4h0M907.6 828.1h0M909.4 827.8h0M911.3 827.7h0M913.1 827.8h0M914.9 827.8h0M916.8 827.8h0M918.6 827.7h0M920.5 827.4h0M922.3 827.1h0M924.1 827.0h0M926.0 827.2h0M927.8 827.8h0M929.7 828.8h0M931.5 829.8h0M933.4 830.9h0M935.2 831.9h0M937.0 833.0h0M938.9 834.2h0M940.7 835.6h0M942.6 836.8h0M944.4 837.8h0M946.2 838.1h0M948.1 837.9h0M949.9 837.2h0M951.8 836.4h0M953.6 835.7h0M955.4 835.1h0M957.3 834.6h0M959.1 834.1h0M961.0 833.6h0M962.8 833.2h0M964.7 833.0h0M966.5 832.9h0M968.3 832.8h0M970.2 832.8h0M972.0 832.9h0M973.9 833.3h0M975.7 833.8h0M977.5 834.1h0M979.4 834.0h0M981.2 833.6h0M983.1 833.1h0M984.9 832.8h0M986.8 832.7h0M988.6 832.6h0M990.4 832.5h0M992.3 832.4h0M994.1 832.2h0M996.0 831.8h0M997.8 831.4h0M999.6 831.2h0M1001.5 831.4h0M1003.3 831.9h0M1005.2 832.6h0M1007.0 833.4h0M1008.8 834.0h0M1010.7 834.3h0M1012.5 834.3h0M1014.4 834.0h0M1016.2 833.6h0M1018.1 833.2h0M1019.9 832.8h0M1021.7 832.4h0M1023.6 832.2h0M1025.4 832.2h0" stroke="#000" stroke-width="10.7" stroke-linecap="round" fill="none"/>
<path d="M117.5 839.8 118.4 839.8 119.4 839.7 120.3 839.7 121.2 839.7 122.1 839.6 123.0 839.6 124.0 839.6 124.9 839.6 125.8 839.5 126.7 839.5 127.6 839.5 128.6 839.4 129.5 839.4 130.4 839.4 131.3 839.3 132.2 839.3 133.2 839.3 134.1 839.2 135.0 839.2 135.9 839.2 136.9 839.1 137.8 839.1 138.7 839.1 139.6 839.0 140.5 839.0 141.5 838.9 142.4 838.9 143.3 838.9 144.2 838.8 145.1 838.8 146.1 838.7 147.0 838.7 147.9 838.6 148.8 838.6 149.7 838.5 150.7 838.5 151.6 838.4 152.5 838.4 153.4 838.3 154.3 838.3 155.3 838.2 156.2 838.2 157.1 838.1 158.0 838.1 158.9 838.0 159.9 838.0 160.8 837.9 161.7 837.8 162.6 837.8 163.5 837.7 164.5 837.6 165.4 837.6 166.3 837.5 167.2 837.4 168.2 837.4 169.1 837.3 170.0 837.2 170.9 837.1 171.8 837.1 172.8 837.0 173.7 836.9 174.6 836.8 175.5 836.7 176.4 836.6 177.4 836.5 178.3 836.5 179.2 836.4 180.1 836.3 181.0 836.2 182.0 836.1 182.9 835.9 183.8 835.8 184.7 835.7 185.6 835.6 186.6 835.5 187.5 835.4 188.4 835.2 189.3 835.1 190.2 835.0 191.2 834.8 192.1 834.7 193.0 834.5 193.9 834.4 194.9 834.2 195.8 834.1 196.7 833.9 197.6 833.7 198.5 833.5 199.5 833.4 200.4 833.2 201.3 833.0 202.2 832.8 203.1 832.6 204.1 832.3 205.0 832.1 205.9 831.9 206.8 831.6 207.7 831.4 208.7 831.1 209.6 830.9 210.5 830.6 211.4 830.3 212.3 830.0 213.3 829.7 214.2 829.3 215.1 829.0 216.0 828.6 216.9 828.3 217.9 827.9 218.8 827.5 219.7 827.0 220.6 826.6 221.5 826.2 222.5 825.7 223.4 825.2 224.3 824.7 225.2 824.1 226.2 823.5 227.1 823.0 228.0 822.3 228.9 821.7 229.8 821.0 230.8 820.3 231.7 819.5 232.6 818.8 233.5 817.9 234.4 817.1 235.4 816.2 236.3 815.3 237.2 814.3 238.1 813.2 239.0 812.2 240.0 811.0 240.9 809.9 241.8 808.6 242.7 807.3 243.6 806.0 244.6 804.6 245.5 803.1 246.4 801.6 247.3 800.0 248.2 798.3 249.2 796.6 250.1 794.8 251.0 792.9 251.9 791.0 252.8 789.0 253.8 787.0 254.7 784.9 255.6 782.9 256.5 780.7 257.5 778.7 258.4 776.6 259.3 774.6 260.2 772.7 261.1 770.9 262.1 769.3 263.0 767.9 263.9 766.7 264.8 765.7 265.7 765.0 266.7 764.7 267.6 764.6 268.5 764.8 269.4 765.4 270.3 766.2 271.3 767.2 272.2 768.6 273.1 770.1 274.0 771.7 274.9 773.6 275.9 775.5 276.8 777.5 277.7 779.5 278.6 781.5 279.5 783.6 280.5 785.6 281.4 787.6 282.3 789.5 283.2 791.4 284.2 793.2 285.1 794.9 286.0 796.6 286.9 798.2 287.8 799.8 288.8 801.3 289.7 802.7 290.6 804.1 291.5 805.4 292.4 806.6 293.4 807.8 294.3 808.9 295.2 810.0 296.1 811.0 297.0 812.0 298.0 812.9 298.9 813.8 299.8 814.6 300.7 815.4 301.6 816.2 302.6 816.9 303.5 817.6 304.4 818.2 305.3 818.9 306.2 819.4 307.2 820.0 308.1 820.5 309.0 821.0 309.9 821.5 310.8 821.9 311.8 822.4 312.7 822.8 313.6 823.1 314.5 823.5 315.5 823.9 316.4 824.2 317.3 824.5 318.2 824.8 319.1 825.1 320.1 825.3 321.0 825.6 321.9 825.8 322.8 826.0 323.7 826.2 324.7 826.4 325.6 826.6 326.5 826.8 327.4 826.9 328.3 827.1 329.3 827.2 330.2 827.4 331.1 827.5 332.0 827.6 332.9 827.7 333.9 827.8 334.8 827.9 335.7 828.0 336.6 828.0 337.5 828.1 338.5 828.1 339.4 828.2 340.3 828.2 341.2 828.3 342.1 828.3 343.1 828.3 344.0 828.3 344.9 828.3 345.8 828.3 346.8 828.3 347.7 828.3 348.6 828.2 349.5 828.2 350.4 828.2 351.4 828.1 352.3 828.1 353.2 828.0 354.1 827.9 355.0 827.8 356.0 827.7 356.9 827.7 357.8 827.6 358.7 827.4 359.6 827.3 360.6 827.2 361.5 827.1 362.4 826.9 363.3 826.8 364.2 826.6 365.2 826.4 366.1 826.3 367.0 826.1 367.9 825.9 368.8 825.7 369.8 825.4 370.7 825.2 371.6 825.0 372.5 824.7 373.5 824.5 374.4 824.2 375.3 823.9 376.2 823.6 377.1 823.3 378.1 823.0 379.0 822.6 379.9 822.3 380.8 821.9 381.7 821.6 382.7 821.2 383.6 820.8 384.5 820.3 385.4 819.9 386.3 819.4 387.3 819.0 388.2 818.5 389.1 818.0 390.0 817.5 390.9 816.9 391.9 816.4 392.8 815.8 393.7 815.2 394.6 814.6 395.5 813.9 396.5 813.3 397.4 812.6 398.3 811.9 399.2 811.1 400.1 810.3 401.1 809.5 402.0 808.7 402.9 807.9 403.8 807.0 404.8 806.0 405.7 805.0 406.6 804.0 407.5 802.9 408.4 801.8 409.4 800.5 410.3 799.3 411.2 797.9 412.1 796.4 413.0 794.9 414.0 793.2 414.9 791.4 415.8 789.5 416.7 787.4 417.6 785.1 418.6 782.7 419.5 780.1 420.4 777.4 421.3 774.3 422.2 771.1 423.2 767.6 424.1 763.9 425.0 759.9 425.9 755.6 426.8 751.0 427.8 746.1 428.7 740.9 429.6 735.4 430.5 729.5 431.5 723.3 432.4 716.8 433.3 709.9 434.2 702.7 435.1 695.2 436.1 687.4 437.0 679.3 437.9 670.9 438.8 662.3 439.7 653.4 440.7 644.4 441.6 635.2 442.5 625.9 443.4 616.5 444.3 607.2 445.3 597.9 446.2 588.7 447.1 579.8 448.0 571.2 448.9 562.9 449.9 555.1 450.8 547.8 451.7 541.2 452.6 535.3 453.5 530.2 454.5 526.0 455.4 522.7 456.3 520.3 457.2 519.0 458.1 518.8 459.1 519.6 460.0 521.4 460.9 524.3 461.8 528.1 462.8 532.8 463.7 538.4 464.6 544.7 465.5 551.7 466.4 559.3 467.4 567.4 468.3 576.0 469.2 584.8 470.1 594.0 471.0 603.3 472.0 612.7 472.9 622.2 473.8 631.6 474.7 641.0 475.6 650.3 476.6 659.4 477.5 668.3 478.4 676.9 479.3 685.3 480.2 693.5 481.2 701.3 482.1 708.8 483.0 716.0 483.9 722.8 484.8 729.4 485.8 735.6 486.7 741.4 487.6 747.0 488.5 752.2 489.4 757.1 490.4 761.7 491.3 766.1 492.2 770.1 493.1 773.9 494.1 777.4 495.0 780.7 495.9 783.8 496.8 786.6 497.7 789.3 498.7 791.7 499.6 794.0 500.5 796.1 501.4 798.1 502.3 799.9 503.3 801.6 504.2 803.2 505.1 804.7 506.0 806.0 506.9 807.3 507.9 808.5 508.8 809.7 509.7 810.7 510.6 811.7 511.5 812.6 512.5 813.5 513.4 814.3 514.3 815.1 515.2 815.8 516.1 816.6 517.1 817.2 518.0 817.9 518.9 818.5 519.8 819.0 520.8 819.6 521.7 820.1 522.6 820.6 523.5 821.1 524.4 821.6 525.4 822.0 526.3 822.4 527.2 822.9 528.1 823.3 529.0 823.6 530.0 824.0 530.9 824.4 531.8 824.7 532.7 825.0 533.6 825.4 534.6 825.7 535.5 826.0 536.4 826.3 537.3 826.5 538.2 826.8 539.2 827.1 540.1 827.3 541.0 827.6 541.9 827.8 542.8 828.0 543.8 828.3 544.7 828.5 545.6 828.7 546.5 828.9 547.4 829.1 548.4 829.3 549.3 829.5 550.2 829.6 551.1 829.8 552.1 830.0 553.0 830.2 553.9 830.3 554.8 830.5 555.7 830.6 556.7 830.8 557.6 830.9 558.5 831.0 559.4 831.2 560.3 831.3 561.3 831.4 562.2 831.6 563.1 831.7 564.0 831.8 564.9 831.9 565.9 832.0 566.8 832.1 567.7 832.2 568.6 832.3 569.5 832.4 570.5 832.5 571.4 832.6 572.3 832.7 573.2 832.8 574.1 832.9 575.1 833.0 576.0 833.1 576.9 833.1 577.8 833.2 578.8 833.3 579.7 833.4 580.6 833.4 581.5 833.5 582.4 833.6 583.4 833.6 584.3 833.7 585.2 833.7 586.1 833.8 587.0 833.9 588.0 833.9 588.9 834.0 589.8 834.0 590.7 834.1 591.6 834.1 592.6 834.2 593.5 834.2 594.4 834.3 595.3 834.3 596.2 834.3 597.2 834.4 598.1 834.4 599.0 834.5 599.9 834.5 600.8 834.5 601.8 834.6 602.7 834.6 603.6 834.6 604.5 834.6 605.4 834.7 606.4 834.7 607.3 834.7 608.2 834.8 609.1 834.8 610.1 834.8 611.0 834.8 611.9 834.8 612.8 834.9 613.7 834.9 614.7 834.9 615.6 834.9 616.5 834.9 617.4 834.9 618.3 834.9 619.3 835.0 620.2 835.0 621.1 835.0 622.0 835.0 622.9 835.0 623.9 835.0 624.8 835.0 625.7 835.0 626.6 835.0 627.5 835.0 628.5 835.0 629.4 835.0 630.3 835.0 631.2 835.0 632.1 835.0 633.1 835.0 634.0 835.0 634.9 835.0 635.8 834.9 636.8 834.9 637.7 834.9 638.6 834.9 639.5 834.9 640.4 834.9 641.4 834.9 642.3 834.9 643.2 834.8 644.1 834.8 645.0 834.8 646.0 834.8 646.9 834.7 647.8 834.7 648.7 834.7 649.6 834.7 650.6 834.6 651.5 834.6 652.4 834.6 653.3 834.5 654.2 834.5 655.2 834.5 656.1 834.4 657.0 834.4 657.9 834.4 658.8 834.3 659.8 834.3 660.7 834.2 661.6 834.2 662.5 834.1 663.4 834.1 664.4 834.0 665.3 834.0 666.2 833.9 667.1 833.9 668.1 833.8 669.0 833.7 669.9 833.7 670.8 833.6 671.7 833.5 672.7 833.5 673.6 833.4 674.5 833.3 675.4 833.2 676.3 833.2 677.3 833.1 678.2 833.0 679.1 832.9 680.0 832.8 680.9 832.7 681.9 832.6 682.8 832.5 683.7 832.4 684.6 832.3 685.5 832.2 686.5 832.1 687.4 832.0 688.3 831.9 689.2 831.7 690.1 831.6 691.1 831.5 692.0 831.3 692.9 831.2 693.8 831.0 694.7 830.9 695.7 830.7 696.6 830.6 697.5 830.4 698.4 830.2 699.4 830.1 700.3 829.9 701.2 829.7 702.1 829.5 703.0 829.3 704.0 829.1 704.9 828.9 705.8 828.7 706.7 828.4 707.6 828.2 708.6 827.9 709.5 827.7 710.4 827.4 711.3 827.2 712.2 826.9 713.2 826.6 714.1 826.3 715.0 826.0 715.9 825.6 716.8 825.3 717.8 824.9 718.7 824.6 719.6 824.2 720.5 823.8 721.4 823.4 722.4 822.9 723.3 822.5 724.2 822.0 725.1 821.5 726.1 821.0 727.0 820.5 727.9 819.9 728.8 819.3 729.7 818.7 730.7 818.0 731.6 817.3 732.5 816.6 733.4 815.8 734.3 815.0 735.3 814.1 736.2 813.2 737.1 812.2 738.0 811.2 738.9 810.1 739.9 808.9 740.8 807.7 741.7 806.4 742.6 804.9 743.5 803.4 744.5 801.8 745.4 800.1 746.3 798.3 747.2 796.4 748.1 794.4 749.1 792.2 750.0 789.9 750.9 787.5 751.8 785.0 752.7 782.3 753.7 779.5 754.6 776.5 755.5 773.4 756.4 770.2 757.4 766.9 758.3 763.4 759.2 759.9 760.1 756.2 761.0 752.5 762.0 748.7 762.9 744.9 763.8 741.1 764.7 737.2 765.6 733.4 766.6 729.6 767.5 725.9 768.4 722.4 769.3 719.0 770.2 715.7 771.2 712.7 772.1 709.9 773.0 707.4 773.9 705.1 774.8 703.2 775.8 701.7 776.7 700.5 777.6 699.8 778.5 699.4 779.4 699.4 780.4 699.8 781.3 700.6 782.2 701.8 783.1 703.4 784.0 705.3 785.0 707.6 785.9 710.1 786.8 713.0 787.7 716.0 788.7 719.3 789.6 722.7 790.5 726.3 791.4 730.0 792.3 733.8 793.3 737.6 794.2 741.5 795.1 745.3 796.0 749.1 796.9 752.9 797.9 756.6 798.8 760.2 799.7 763.8 800.6 767.2 801.5 770.5 802.5 773.7 803.4 776.8 804.3 779.7 805.2 782.5 806.1 785.2 807.1 787.7 808.0 790.1 808.9 792.4 809.8 794.5 810.7 796.6 811.7 798.5 812.6 800.3 813.5 802.0 814.4 803.6 815.4 805.0 816.3 806.4 817.2 807.8 818.1 809.0 819.0 810.1 820.0 811.2 820.9 812.3 821.8 813.2 822.7 814.1 823.6 815.0 824.6 815.8 825.5 816.6 826.4 817.3 827.3 818.0 828.2 818.6 829.2 819.2 830.1 819.8 831.0 820.4 831.9 820.9 832.8 821.4 833.8 821.9 834.7 822.4 835.6 822.8 836.5 823.2 837.4 823.6 838.4 824.0 839.3 824.4 840.2 824.8 841.1 825.1 842.0 825.4 843.0 825.7 843.9 826.1 844.8 826.3 845.7 826.6 846.7 826.9 847.6 827.1 848.5 827.4 849.4 827.6 850.3 827.9 851.3 828.1 852.2 828.3 853.1 828.5 854.0 828.7 854.9 828.9 855.9 829.0 856.8 829.2 857.7 829.4 858.6 829.5 859.5 829.7 860.5 829.8 861.4 829.9 862.3 830.1 863.2 830.2 864.1 830.3 865.1 830.4 866.0 830.5 866.9 830.6 867.8 830.7 868.7 830.7 869.7 830.8 870.6 830.9 871.5 830.9 872.4 831.0 873.4 831.0 874.3 831.1 875.2 831.1 876.1 831.1 877.0 831.1 878.0 831.1 878.9 831.1 879.8 831.1 880.7 831.1 881.6 831.1 882.6 831.1 883.5 831.0 884.4 831.0 885.3 830.9 886.2 830.9 887.2 830.8 888.1 830.8 889.0 830.7 889.9 830.6 890.8 830.5 891.8 830.4 892.7 830.3 893.6 830.2 894.5 830.1 895.4 829.9 896.4 829.8 897.3 829.7 898.2 829.5 899.1 829.4 900.0 829.2 901.0 829.1 901.9 828.9 902.8 828.8 903.7 828.6 904.7 828.5 905.6 828.3 906.5 828.2 907.4 828.0 908.3 827.9 909.3 827.8 910.2 827.7 911.1 827.5 912.0 827.5 912.9 827.4 913.9 827.3 914.8 827.3 915.7 827.2 916.6 827.2 917.5 827.2 918.5 827.2 919.4 827.3 920.3 827.4 921.2 827.4 922.1 827.5 923.1 827.7 924.0 827.8 924.9 828.0 925.8 828.1 926.7 828.3 927.7 828.5 928.6 828.7 929.5 828.9 930.4 829.2 931.4 829.4 932.3 829.6 933.2 829.9 934.1 830.1 935.0 830.3 936.0 830.6 936.9 830.8 937.8 831.1 938.7 831.3 939.6 831.5 940.6 831.7 941.5 832.0 942.4 832.2 943.3 832.4 944.2 832.6 945.2 832.8 946.1 833.0 947.0 833.2 947.9 833.4 948.8 833.6 949.8 833.7 950.7 833.9 951.6 834.1 952.5 834.2 953.4 834.4 954.4 834.5 955.3 834.7 956.2 834.8 957.1 834.9 958.0 835.1 959.0 835.2 959.9 835.3 960.8 835.4 961.7 835.5 962.7 835.6 963.6 835.7 964.5 835.8 965.4 835.9 966.3 836.0 967.3 836.1 968.2 836.2 969.1 836.3 970.0 836.3 970.9 836.4 971.9 836.5 972.8 836.6 973.7 836.6 974.6 836.7 975.5 836.7 976.5 836.8 977.4 836.9 978.3 836.9 979.2 837.0 980.1 837.0 981.1 837.1 982.0 837.1 982.9 837.2 983.8 837.2 984.7 837.2 985.7 837.3 986.6 837.3 987.5 837.4 988.4 837.4 989.3 837.4 990.3 837.5 991.2 837.5 992.1 837.5 993.0 837.6 994.0 837.6 994.9 837.6 995.8 837.7 996.7 837.7 997.6 837.7 998.6 837.7 999.5 837.8 1000.4 837.8 1001.3 837.8 1002.2 837.8 1003.2 837.9 1004.1 837.9 1005.0 837.9 1005.9 837.9 1006.8 838.0 1007.8 838.0 1008.7 838.0 1009.6 838.0 1010.5 838.0 1011.4 838.1 1012.4 838.1 1013.3 838.1 1014.2 838.1 1015.1 838.1 1016.0 838.1 1017.0 838.2 1017.9 838.2 1018.8 838.2 1019.7 838.2 1020.7 838.2 1021.6 838.2 1022.5 838.3 1023.4 838.3 1024.3 838.3 1025.3 838.3 1026.2 838.3" stroke="#f00" stroke-width="5" stroke-linejoin="round" fill="none"/></g>
<g clip-path="url(#c2)"><path d="M117.7 1224.9h0M119.5 1225.3h0M121.4 1225.7h0M123.2 1226.2h0M125.0 1226.7h0M126.9 1227.2h0M128.7 1227.6h0M130.6 1227.7h0M132.4 1227.4h0M134.3 1226.9h0M136.1 1226.1h0M137.9 1225.2h0M139.8 1224.3h0M141.6 1223.6h0M143.5 1223.0h0M145.3 1222.7h0M147.1 1222.6h0M149.0 1222.5h0M150.8 1222.3h0M152.7 1222.0h0M154.5 1221.6h0M156.3 1221.3h0M158.2 1221.0h0M160.0 1220.6h0M161.9 1220.0h0M163.7 1219.5h0M165.6 1219.3h0M167.4 1219.4h0M169.2 1219.8h0M171.1 1220.2h0M172.9 1220.6h0M174.8 1221.1h0M176.6 1221.6h0M178.4 1222.0h0M180.3 1222.3h0M182.1 1222.5h0M184.0 1222.7h0M185.8 1223.0h0M187.6 1223.4h0M189.5 1223.8h0M191.3 1224.1h0M193.2 1224.4h0M195.0 1224.7h0M196.9 1224.7h0M198.7 1224.6h0M200.5 1224.1h0M202.4 1223.3h0M204.2 1222.3h0M206.1 1221.3h0M207.9 1220.3h0M209.7 1219.3h0M211.6 1218.3h0M213.4 1217.2h0M215.3 1215.9h0M217.1 1214.5h0M218.9 1212.9h0M220.8 1211.1h0M222.6 1208.9h0M224.5 1206.3h0M226.3 1203.5h0M228.2 1200.6h0M230.0 1198.0h0M231.8 1195.8h0M233.7 1194.3h0M235.5 1193.6h0M237.4 1193.9h0M239.2 1195.0h0M241.0 1196.6h0M242.9 1197.9h0M244.7 1197.9h0M246.6 1195.9h0M248.4 1191.6h0M250.2 1185.4h0M252.1 1177.9h0M253.9 1170.2h0M255.8 1162.9h0M257.6 1156.6h0M259.5 1151.6h0M261.3 1148.1h0M263.1 1146.3h0M265.0 1146.2h0M266.8 1147.6h0M268.7 1150.0h0M270.5 1153.1h0M272.3 1156.4h0M274.2 1159.9h0M276.0 1163.5h0M277.9 1167.1h0M279.7 1170.7h0M281.6 1174.4h0M283.4 1178.2h0M285.2 1182.1h0M287.1 1186.1h0M288.9 1189.8h0M290.8 1193.1h0M292.6 1196.0h0M294.4 1198.3h0M296.3 1200.2h0M298.1 1201.8h0M300.0 1203.3h0M301.8 1204.6h0M303.6 1205.6h0M305.5 1206.2h0M307.3 1206.3h0M309.2 1206.4h0M311.0 1206.7h0M312.9 1207.2h0M314.7 1207.8h0M316.5 1208.6h0M318.4 1209.4h0M320.2 1210.4h0M322.1 1211.6h0M323.9 1213.0h0M325.7 1214.5h0M327.6 1216.1h0M329.4 1217.5h0M331.3 1218.5h0M333.1 1219.4h0M334.9 1220.3h0M336.8 1221.2h0M338.6 1222.2h0M340.5 1223.3h0M342.3 1224.5h0M344.2 1225.5h0M346.0 1226.0h0M347.8 1226.1h0M349.7 1225.6h0M351.5 1224.7h0M353.4 1223.4h0M355.2 1222.0h0M357.0 1220.4h0M358.9 1218.9h0M360.7 1217.3h0M362.6 1215.8h0M364.4 1214.2h0M366.2 1212.7h0M368.1 1211.8h0M369.9 1211.3h0M371.8 1211.0h0M373.6 1210.4h0M375.5 1209.4h0M377.3 1207.8h0M379.1 1206.0h0M381.0 1203.9h0M382.8 1201.8h0M384.7 1199.6h0M386.5 1197.1h0M388.3 1194.3h0M390.2 1191.0h0M392.0 1187.3h0M393.9 1183.4h0M395.7 1179.4h0M397.6 1175.7h0M399.4 1172.3h0M401.2 1169.1h0M403.1 1165.8h0M404.9 1162.4h0M406.8 1158.5h0M408.6 1154.2h0M410.4 1149.3h0M412.3 1143.8h0M414.1 1137.9h0M416.0 1131.6h0M417.8 1124.9h0M419.6 1117.6h0M421.5 1109.6h0M423.3 1100.9h0M425.2 1091.4h0M427.0 1081.3h0M428.9 1070.8h0M430.7 1059.9h0M432.5 1048.6h0M434.4 1037.0h0M436.2 1025.2h0M438.1 1013.8h0M439.9 1002.8h0M441.7 992.6h0M443.6 983.3h0M445.4 975.2h0M447.3 968.7h0M449.1 964.2h0M450.9 961.7h0M452.8 961.0h0M454.6 961.9h0M456.5 964.5h0M458.3 968.7h0M460.2 974.5h0M462.0 981.5h0M463.8 989.4h0M465.7 998.4h0M467.5 1008.3h0M469.4 1018.9h0M471.2 1029.9h0M473.0 1040.8h0M474.9 1051.4h0M476.7 1061.9h0M478.6 1072.2h0M480.4 1082.5h0M482.2 1092.9h0M484.1 1103.2h0M485.9 1113.4h0M487.8 1123.3h0M489.6 1132.6h0M491.5 1141.3h0M493.3 1149.5h0M495.1 1157.3h0M497.0 1164.6h0M498.8 1171.4h0M500.7 1177.7h0M502.5 1183.4h0M504.3 1188.6h0M506.2 1193.4h0M508.0 1197.9h0M509.9 1202.0h0M511.7 1205.9h0M513.5 1209.1h0M515.4 1211.6h0M517.2 1213.6h0M519.1 1215.1h0M520.9 1216.6h0M522.8 1217.8h0M524.6 1218.8h0M526.4 1219.5h0M528.3 1220.0h0M530.1 1220.4h0M532.0 1220.9h0M533.8 1221.4h0M535.6 1221.9h0M537.5 1222.4h0M539.3 1222.8h0M541.2 1223.1h0M543.0 1223.3h0M544.9 1223.2h0M546.7 1222.8h0M548.5 1222.2h0M550.4 1221.7h0M552.2 1221.3h0M554.1 1221.2h0M555.9 1221.3h0M557.7 1221.9h0M559.6 1222.8h0M561.4 1223.9h0M563.3 1224.8h0M565.1 1225.5h0M566.9 1226.0h0M568.8 1226.2h0M570.6 1226.1h0M572.5 1225.7h0M574.3 1225.0h0M576.2 1224.2h0M578.0 1223.4h0M579.8 1222.8h0M581.7 1222.7h0M583.5 1223.0h0M585.4 1223.5h0M587.2 1223.9h0M589.0 1224.2h0M590.9 1224.3h0M592.7 1224.3h0M594.6 1224.2h0M596.4 1223.7h0M598.2 1222.8h0M600.1 1221.9h0M601.9 1221.0h0M603.8 1220.4h0M605.6 1220.1h0M607.5 1220.0h0M609.3 1220.1h0M611.1 1220.4h0M613.0 1220.8h0M614.8 1221.0h0M616.7 1221.2h0M618.5 1221.2h0M620.3 1221.1h0M622.2 1221.1h0M624.0 1221.2h0M625.9 1221.4h0M627.7 1221.5h0M629.5 1221.8h0M631.4 1222.1h0M633.2 1222.5h0M635.1 1222.7h0M636.9 1222.6h0M638.8 1222.4h0M640.6 1222.1h0M642.4 1222.1h0M644.3 1222.3h0M646.1 1222.3h0M648.0 1221.9h0M649.8 1220.8h0M651.6 1219.1h0M653.5 1217.2h0M655.3 1215.4h0M657.2 1213.7h0M659.0 1212.3h0M660.8 1211.4h0M662.7 1211.0h0M664.5 1211.3h0M666.4 1212.1h0M668.2 1213.5h0M670.1 1215.2h0M671.9 1217.0h0M673.7 1218.7h0M675.6 1220.2h0M677.4 1221.3h0M679.3 1222.1h0M681.1 1222.8h0M682.9 1223.6h0M684.8 1224.6h0M686.6 1225.6h0M688.5 1226.5h0M690.3 1226.9h0M692.2 1226.8h0M694.0 1226.4h0M695.8 1225.9h0M697.7 1225.3h0M699.5 1224.8h0M701.4 1224.6h0M703.2 1224.7h0M705.0 1224.8h0M706.9 1224.7h0M708.7 1224.7h0M710.6 1224.7h0M712.4 1224.8h0M714.2 1224.9h0M716.1 1225.0h0M717.9 1225.0h0M719.8 1224.5h0M721.6 1223.6h0M723.5 1221.7h0M725.3 1219.3h0M727.1 1216.5h0M729.0 1213.7h0M730.8 1211.0h0M732.7 1208.4h0M734.5 1205.9h0M736.3 1203.1h0M738.2 1199.9h0M740.0 1196.1h0M741.9 1192.0h0M743.7 1187.7h0M745.5 1183.1h0M747.4 1178.3h0M749.2 1173.1h0M751.1 1167.5h0M752.9 1161.5h0M754.8 1155.3h0M756.6 1149.0h0M758.4 1142.7h0M760.3 1136.1h0M762.1 1129.0h0M764.0 1121.3h0M765.8 1113.1h0M767.6 1105.2h0M769.5 1098.3h0M771.3 1093.4h0M773.2 1091.1h0M775.0 1090.9h0M776.8 1092.3h0M778.7 1094.9h0M780.5 1098.5h0M782.4 1103.4h0M784.2 1109.5h0M786.1 1116.8h0M787.9 1124.9h0M789.7 1133.5h0M791.6 1142.3h0M793.4 1151.0h0M795.3 1159.5h0M797.1 1167.8h0M798.9 1175.6h0M800.8 1182.8h0M802.6 1189.3h0M804.5 1195.1h0M806.3 1200.0h0M808.1 1204.1h0M810.0 1207.4h0M811.8 1210.0h0M813.7 1212.1h0M815.5 1213.8h0M817.4 1215.3h0M819.2 1216.8h0M821.0 1218.1h0M822.9 1219.4h0M824.7 1220.6h0M826.6 1221.7h0M828.4 1222.8h0M830.2 1223.5h0M832.1 1223.9h0M833.9 1224.0h0M835.8 1224.1h0M837.6 1224.1h0M839.5 1224.1h0M841.3 1224.2h0M843.1 1224.4h0M845.0 1224.6h0M846.8 1224.7h0M848.7 1224.8h0M850.5 1225.0h0M852.3 1225.4h0M854.2 1225.7h0M856.0 1226.1h0M857.9 1226.4h0M859.7 1226.5h0M861.5 1226.3h0M863.4 1225.9h0M865.2 1225.4h0M867.1 1224.8h0M868.9 1224.2h0M870.8 1223.4h0M872.6 1222.6h0M874.4 1221.8h0M876.3 1220.9h0M878.1 1220.1h0M880.0 1219.4h0M881.8 1219.0h0M883.6 1218.7h0M885.5 1218.4h0M887.3 1218.1h0M889.2 1217.7h0M891.0 1217.2h0M892.8 1216.8h0M894.7 1216.2h0M896.5 1215.5h0M898.4 1214.5h0M900.2 1213.6h0M902.1 1212.8h0M903.9 1212.0h0M905.7 1211.2h0M907.6 1210.2h0M909.4 1209.3h0M911.3 1208.5h0M913.1 1207.8h0M914.9 1207.3h0M916.8 1206.9h0M918.6 1206.6h0M920.5 1206.7h0M922.3 1207.0h0M924.1 1207.5h0M926.0 1207.9h0M927.8 1208.4h0M929.7 1209.1h0M931.5 1210.1h0M933.4 1211.5h0M935.2 1213.3h0M937.0 1215.3h0M938.9 1217.3h0M940.7 1219.2h0M942.6 1220.8h0M944.4 1222.0h0M946.2 1222.8h0M948.1 1223.1h0M949.9 1223.0h0M951.8 1222.7h0M953.6 1222.2h0M955.4 1221.7h0M957.3 1221.2h0M959.1 1220.8h0M961.0 1220.6h0M962.8 1220.6h0M964.7 1220.6h0M966.5 1220.6h0M968.3 1220.6h0M970.2 1220.5h0M972.0 1220.4h0M973.9 1220.1h0M975.7 1219.7h0M977.5 1219.4h0M979.4 1219.1h0M981.2 1219.1h0M983.1 1219.3h0M984.9 1219.6h0M986.8 1220.0h0M988.6 1220.5h0M990.4 1221.0h0M992.3 1221.5h0M994.1 1221.7h0M996.0 1221.6h0M997.8 1221.4h0M999.6 1221.2h0M1001.5 1221.2h0M1003.3 1221.4h0M1005.2 1221.7h0M1007.0 1222.0h0M1008.8 1222.4h0M1010.7 1222.8h0M1012.5 1223.2h0M1014.4 1223.5h0M1016.2 1223.9h0M1018.1 1224.1h0M1019.9 1224.1h0M1021.7 1224.0h0M1023.6 1223.6h0M1025.4 1223.3h0" stroke="#000" stroke-width="10.7" stroke-linecap="round" fill="none"/>
<path d="M117.5 1225.8 118.4 1225.8 119.4 1225.8 120.3 1225.8 121.2 1225.7 122.1 1225.7 123.0 1225.7 124.0 1225.7 124.9 1225.7 125.8 1225.6 126.7 1225.6 127.6 1225.6 128.6 1225.6 129.5 1225.5 130.4 1225.5 131.3 1225.5 132.2 1225.5 133.2 1225.4 134.1 1225.4 135.0 1225.4 135.9 1225.4 136.9 1225.3 137.8 1225.3 138.7 1225.3 139.6 1225.3 140.5 1225.2 141.5 1225.2 142.4 1225.2 143.3 1225.1 144.2 1225.1 145.1 1225.1 146.1 1225.0 147.0 1225.0 147.9 1225.0 148.8 1224.9 149.7 1224.9 150.7 1224.9 151.6 1224.8 152.5 1224.8 153.4 1224.8 154.3 1224.7 155.3 1224.7 156.2 1224.7 157.1 1224.6 158.0 1224.6 158.9 1224.5 159.9 1224.5 160.8 1224.5 161.7 1224.4 162.6 1224.4 163.5 1224.3 164.5 1224.3 165.4 1224.2 166.3 1224.2 167.2 1224.1 168.2 1224.1 169.1 1224.0 170.0 1224.0 170.9 1223.9 171.8 1223.9 172.8 1223.8 173.7 1223.7 174.6 1223.7 175.5 1223.6 176.4 1223.6 177.4 1223.5 178.3 1223.4 179.2 1223.4 180.1 1223.3 181.0 1223.2 182.0 1223.1 182.9 1223.1 183.8 1223.0 184.7 1222.9 185.6 1222.8 186.6 1222.7 187.5 1222.7 188.4 1222.6 189.3 1222.5 190.2 1222.4 191.2 1222.3 192.1 1222.2 193.0 1222.1 193.9 1222.0 194.9 1221.9 195.8 1221.7 196.7 1221.6 197.6 1221.5 198.5 1221.4 199.5 1221.3 200.4 1221.1 201.3 1221.0 202.2 1220.8 203.1 1220.7 204.1 1220.5 205.0 1220.4 205.9 1220.2 206.8 1220.0 207.7 1219.9 208.7 1219.7 209.6 1219.5 210.5 1219.3 211.4 1219.1 212.3 1218.9 213.3 1218.6 214.2 1218.4 215.1 1218.2 216.0 1217.9 216.9 1217.6 217.9 1217.4 218.8 1217.1 219.7 1216.8 220.6 1216.4 221.5 1216.1 222.5 1215.8 223.4 1215.4 224.3 1215.0 225.2 1214.6 226.2 1214.2 227.1 1213.7 228.0 1213.3 228.9 1212.7 229.8 1212.2 230.8 1211.6 231.7 1211.0 232.6 1210.4 233.5 1209.7 234.4 1209.0 235.4 1208.2 236.3 1207.4 237.2 1206.5 238.1 1205.5 239.0 1204.5 240.0 1203.4 240.9 1202.2 241.8 1201.0 242.7 1199.7 243.6 1198.3 244.6 1196.7 245.5 1195.2 246.4 1193.5 247.3 1191.7 248.2 1189.8 249.2 1187.8 250.1 1185.8 251.0 1183.7 251.9 1181.5 252.8 1179.2 253.8 1176.9 254.7 1174.6 255.6 1172.3 256.5 1169.9 257.5 1167.6 258.4 1165.4 259.3 1163.3 260.2 1161.3 261.1 1159.4 262.1 1157.7 263.0 1156.3 263.9 1155.0 264.8 1154.0 265.7 1153.3 266.7 1152.9 267.6 1152.8 268.5 1153.0 269.4 1153.4 270.3 1154.2 271.3 1155.2 272.2 1156.4 273.1 1157.9 274.0 1159.6 274.9 1161.4 275.9 1163.4 276.8 1165.5 277.7 1167.7 278.6 1169.9 279.5 1172.1 280.5 1174.4 281.4 1176.6 282.3 1178.7 283.2 1180.9 284.2 1182.9 285.1 1184.9 286.0 1186.8 286.9 1188.6 287.8 1190.4 288.8 1192.0 289.7 1193.5 290.6 1194.9 291.5 1196.3 292.4 1197.5 293.4 1198.7 294.3 1199.8 295.2 1200.7 296.1 1201.7 297.0 1202.5 298.0 1203.3 298.9 1204.0 299.8 1204.6 300.7 1205.2 301.6 1205.8 302.6 1206.3 303.5 1206.8 304.4 1207.2 305.3 1207.6 306.2 1208.0 307.2 1208.3 308.1 1208.6 309.0 1208.9 309.9 1209.2 310.8 1209.4 311.8 1209.6 312.7 1209.9 313.6 1210.1 314.5 1210.3 315.5 1210.5 316.4 1210.6 317.3 1210.8 318.2 1211.0 319.1 1211.2 320.1 1211.3 321.0 1211.5 321.9 1211.7 322.8 1211.8 323.7 1212.0 324.7 1212.2 325.6 1212.4 326.5 1212.5 327.4 1212.7 328.3 1212.9 329.3 1213.0 330.2 1213.2 331.1 1213.4 332.0 1213.6 332.9 1213.7 333.9 1213.9 334.8 1214.0 335.7 1214.2 336.6 1214.4 337.5 1214.5 338.5 1214.7 339.4 1214.8 340.3 1214.9 341.2 1215.1 342.1 1215.2 343.1 1215.3 344.0 1215.4 344.9 1215.5 345.8 1215.6 346.8 1215.7 347.7 1215.7 348.6 1215.8 349.5 1215.9 350.4 1215.9 351.4 1216.0 352.3 1216.0 353.2 1216.0 354.1 1216.0 355.0 1216.0 356.0 1216.0 356.9 1216.0 357.8 1216.0 358.7 1215.9 359.6 1215.9 360.6 1215.8 361.5 1215.7 362.4 1215.6 363.3 1215.5 364.2 1215.4 365.2 1215.3 366.1 1215.1 367.0 1215.0 367.9 1214.8 368.8 1214.6 369.8 1214.4 370.7 1214.2 371.6 1214.0 372.5 1213.8 373.5 1213.5 374.4 1213.3 375.3 1213.0 376.2 1212.7 377.1 1212.4 378.1 1212.0 379.0 1211.7 379.9 1211.3 380.8 1211.0 381.7 1210.6 382.7 1210.2 383.6 1209.8 384.5 1209.3 385.4 1208.9 386.3 1208.4 387.3 1207.9 388.2 1207.5 389.1 1207.0 390.0 1206.4 390.9 1205.9 391.9 1205.4 392.8 1204.8 393.7 1204.3 394.6 1203.7 395.5 1203.1 396.5 1202.5 397.4 1201.9 398.3 1201.3 399.2 1200.6 400.1 1200.0 401.1 1199.4 402.0 1198.7 402.9 1198.0 403.8 1197.4 404.8 1196.7 405.7 1195.9 406.6 1195.2 407.5 1194.5 408.4 1193.7 409.4 1192.9 410.3 1192.0 411.2 1191.2 412.1 1190.2 413.0 1189.2 414.0 1188.2 414.9 1187.0 415.8 1185.8 416.7 1184.5 417.6 1183.1 418.6 1181.5 419.5 1179.8 420.4 1178.0 421.3 1176.0 422.2 1173.8 423.2 1171.4 424.1 1168.8 425.0 1166.0 425.9 1162.9 426.8 1159.6 427.8 1155.9 428.7 1152.0 429.6 1147.8 430.5 1143.2 431.5 1138.3 432.4 1133.1 433.3 1127.4 434.2 1121.5 435.1 1115.1 436.1 1108.4 437.0 1101.2 437.9 1093.7 438.8 1085.9 439.7 1077.6 440.7 1069.0 441.6 1060.1 442.5 1050.9 443.4 1041.4 444.3 1031.7 445.3 1021.8 446.2 1011.8 447.1 1001.7 448.0 991.8 448.9 981.9 449.9 972.4 450.8 963.3 451.7 954.7 452.6 946.8 453.5 939.7 454.5 933.7 455.4 928.8 456.3 925.2 457.2 922.9 458.1 922.1 459.1 922.7 460.0 924.7 460.9 928.2 461.8 932.9 462.8 938.8 463.7 945.7 464.6 953.5 465.5 962.1 466.4 971.2 467.4 980.8 468.3 990.8 469.2 1000.9 470.1 1011.1 471.0 1021.3 472.0 1031.4 472.9 1041.3 473.8 1051.1 474.7 1060.6 475.6 1069.8 476.6 1078.6 477.5 1087.2 478.4 1095.4 479.3 1103.2 480.2 1110.7 481.2 1117.7 482.1 1124.4 483.0 1130.8 483.9 1136.7 484.8 1142.3 485.8 1147.6 486.7 1152.5 487.6 1157.1 488.5 1161.4 489.4 1165.3 490.4 1169.0 491.3 1172.4 492.2 1175.6 493.1 1178.5 494.1 1181.2 495.0 1183.7 495.9 1186.0 496.8 1188.1 497.7 1190.1 498.7 1191.9 499.6 1193.5 500.5 1195.1 501.4 1196.5 502.3 1197.8 503.3 1199.0 504.2 1200.1 505.1 1201.1 506.0 1202.1 506.9 1203.0 507.9 1203.8 508.8 1204.6 509.7 1205.3 510.6 1206.0 511.5 1206.6 512.5 1207.3 513.4 1207.8 514.3 1208.4 515.2 1208.9 516.1 1209.3 517.1 1209.8 518.0 1210.2 518.9 1210.7 519.8 1211.0 520.8 1211.4 521.7 1211.8 522.6 1212.1 523.5 1212.5 524.4 1212.8 525.4 1213.1 526.3 1213.4 527.2 1213.7 528.1 1213.9 529.0 1214.2 530.0 1214.4 530.9 1214.7 531.8 1214.9 532.7 1215.1 533.6 1215.3 534.6 1215.6 535.5 1215.8 536.4 1216.0 537.3 1216.1 538.2 1216.3 539.2 1216.5 540.1 1216.7 541.0 1216.8 541.9 1217.0 542.8 1217.1 543.8 1217.3 544.7 1217.4 545.6 1217.6 546.5 1217.7 547.4 1217.8 548.4 1218.0 549.3 1218.1 550.2 1218.2 551.1 1218.3 552.1 1218.4 553.0 1218.5 553.9 1218.6 554.8 1218.7 555.7 1218.8 556.7 1218.9 557.6 1219.0 558.5 1219.1 559.4 1219.2 560.3 1219.3 561.3 1219.4 562.2 1219.4 563.1 1219.5 564.0 1219.6 564.9 1219.7 565.9 1219.7 566.8 1219.8 567.7 1219.9 568.6 1219.9 569.5 1220.0 570.5 1220.1 571.4 1220.1 572.3 1220.2 573.2 1220.2 574.1 1220.3 575.1 1220.3 576.0 1220.4 576.9 1220.4 577.8 1220.5 578.8 1220.5 579.7 1220.6 580.6 1220.6 581.5 1220.7 582.4 1220.7 583.4 1220.7 584.3 1220.8 585.2 1220.8 586.1 1220.8 587.0 1220.9 588.0 1220.9 588.9 1220.9 589.8 1221.0 590.7 1221.0 591.6 1221.0 592.6 1221.1 593.5 1221.1 594.4 1221.1 595.3 1221.1 596.2 1221.2 597.2 1221.2 598.1 1221.2 599.0 1221.2 599.9 1221.2 600.8 1221.3 601.8 1221.3 602.7 1221.3 603.6 1221.3 604.5 1221.3 605.4 1221.3 606.4 1221.4 607.3 1221.4 608.2 1221.4 609.1 1221.4 610.1 1221.4 611.0 1221.4 611.9 1221.4 612.8 1221.4 613.7 1221.4 614.7 1221.4 615.6 1221.4 616.5 1221.5 617.4 1221.5 618.3 1221.5 619.3 1221.5 620.2 1221.5 621.1 1221.5 622.0 1221.5 622.9 1221.5 623.9 1221.5 624.8 1221.5 625.7 1221.5 626.6 1221.5 627.5 1221.5 628.5 1221.4 629.4 1221.4 630.3 1221.4 631.2 1221.4 632.1 1221.4 633.1 1221.4 634.0 1221.4 634.9 1221.4 635.8 1221.4 636.8 1221.4 637.7 1221.4 638.6 1221.3 639.5 1221.3 640.4 1221.3 641.4 1221.3 642.3 1221.3 643.2 1221.3 644.1 1221.2 645.0 1221.2 646.0 1221.2 646.9 1221.2 647.8 1221.2 648.7 1221.1 649.6 1221.1 650.6 1221.1 651.5 1221.1 652.4 1221.0 653.3 1221.0 654.2 1221.0 655.2 1220.9 656.1 1220.9 657.0 1220.9 657.9 1220.8 658.8 1220.8 659.8 1220.8 660.7 1220.7 661.6 1220.7 662.5 1220.7 663.4 1220.6 664.4 1220.6 665.3 1220.5 666.2 1220.5 667.1 1220.4 668.1 1220.4 669.0 1220.3 669.9 1220.3 670.8 1220.2 671.7 1220.2 672.7 1220.1 673.6 1220.1 674.5 1220.0 675.4 1220.0 676.3 1219.9 677.3 1219.8 678.2 1219.8 679.1 1219.7 680.0 1219.6 680.9 1219.5 681.9 1219.5 682.8 1219.4 683.7 1219.3 684.6 1219.2 685.5 1219.1 686.5 1219.0 687.4 1219.0 688.3 1218.9 689.2 1218.8 690.1 1218.7 691.1 1218.6 692.0 1218.4 692.9 1218.3 693.8 1218.2 694.7 1218.1 695.7 1218.0 696.6 1217.9 697.5 1217.7 698.4 1217.6 699.4 1217.5 700.3 1217.3 701.2 1217.2 702.1 1217.0 703.0 1216.8 704.0 1216.7 704.9 1216.5 705.8 1216.3 706.7 1216.1 707.6 1216.0 708.6 1215.8 709.5 1215.6 710.4 1215.3 711.3 1215.1 712.2 1214.9 713.2 1214.6 714.1 1214.4 715.0 1214.1 715.9 1213.9 716.8 1213.6 717.8 1213.3 718.7 1213.0 719.6 1212.6 720.5 1212.3 721.4 1211.9 722.4 1211.6 723.3 1211.2 724.2 1210.8 725.1 1210.3 726.1 1209.8 727.0 1209.4 727.9 1208.8 728.8 1208.3 729.7 1207.7 730.7 1207.1 731.6 1206.4 732.5 1205.7 733.4 1204.9 734.3 1204.1 735.3 1203.3 736.2 1202.3 737.1 1201.4 738.0 1200.3 738.9 1199.2 739.9 1198.0 740.8 1196.7 741.7 1195.3 742.6 1193.8 743.5 1192.3 744.5 1190.6 745.4 1188.8 746.3 1186.9 747.2 1184.9 748.1 1182.7 749.1 1180.5 750.0 1178.1 750.9 1175.5 751.8 1172.9 752.7 1170.0 753.7 1167.1 754.6 1164.0 755.5 1160.8 756.4 1157.4 757.4 1153.9 758.3 1150.3 759.2 1146.6 760.1 1142.8 761.0 1138.9 762.0 1134.9 762.9 1130.9 763.8 1126.8 764.7 1122.8 765.6 1118.7 766.6 1114.7 767.5 1110.8 768.4 1107.1 769.3 1103.5 770.2 1100.1 771.2 1097.0 772.1 1094.2 773.0 1091.7 773.9 1089.6 774.8 1087.9 775.8 1086.6 776.7 1085.9 777.6 1085.6 778.5 1085.8 779.4 1086.4 780.4 1087.6 781.3 1089.2 782.2 1091.2 783.1 1093.6 784.0 1096.3 785.0 1099.4 785.9 1102.7 786.8 1106.2 787.7 1110.0 788.7 1113.8 789.6 1117.8 790.5 1121.8 791.4 1125.9 792.3 1129.9 793.3 1134.0 794.2 1138.0 795.1 1141.9 796.0 1145.7 796.9 1149.5 797.9 1153.1 798.8 1156.6 799.7 1160.0 800.6 1163.2 801.5 1166.3 802.5 1169.3 803.4 1172.1 804.3 1174.8 805.2 1177.4 806.1 1179.8 807.1 1182.1 808.0 1184.3 808.9 1186.3 809.8 1188.3 810.7 1190.1 811.7 1191.8 812.6 1193.4 813.5 1194.8 814.4 1196.2 815.4 1197.5 816.3 1198.8 817.2 1199.9 818.1 1201.0 819.0 1201.9 820.0 1202.9 820.9 1203.7 821.8 1204.6 822.7 1205.3 823.6 1206.0 824.6 1206.7 825.5 1207.3 826.4 1207.9 827.3 1208.5 828.2 1209.0 829.2 1209.5 830.1 1210.0 831.0 1210.4 831.9 1210.8 832.8 1211.2 833.8 1211.6 834.7 1211.9 835.6 1212.3 836.5 1212.6 837.4 1212.9 838.4 1213.2 839.3 1213.5 840.2 1213.7 841.1 1214.0 842.0 1214.2 843.0 1214.5 843.9 1214.7 844.8 1214.9 845.7 1215.1 846.7 1215.3 847.6 1215.5 848.5 1215.7 849.4 1215.8 850.3 1216.0 851.3 1216.2 852.2 1216.3 853.1 1216.5 854.0 1216.6 854.9 1216.7 855.9 1216.8 856.8 1216.9 857.7 1217.1 858.6 1217.2 859.5 1217.3 860.5 1217.3 861.4 1217.4 862.3 1217.5 863.2 1217.6 864.1 1217.6 865.1 1217.7 866.0 1217.7 866.9 1217.8 867.8 1217.8 868.7 1217.8 869.7 1217.8 870.6 1217.8 871.5 1217.8 872.4 1217.8 873.4 1217.8 874.3 1217.8 875.2 1217.8 876.1 1217.7 877.0 1217.7 878.0 1217.6 878.9 1217.5 879.8 1217.4 880.7 1217.3 881.6 1217.2 882.6 1217.1 883.5 1217.0 884.4 1216.8 885.3 1216.7 886.2 1216.5 887.2 1216.4 888.1 1216.2 889.0 1216.0 889.9 1215.8 890.8 1215.6 891.8 1215.4 892.7 1215.1 893.6 1214.9 894.5 1214.7 895.4 1214.4 896.4 1214.1 897.3 1213.9 898.2 1213.6 899.1 1213.3 900.0 1213.1 901.0 1212.8 901.9 1212.5 902.8 1212.2 903.7 1212.0 904.7 1211.7 905.6 1211.4 906.5 1211.2 907.4 1210.9 908.3 1210.7 909.3 1210.5 910.2 1210.3 911.1 1210.1 912.0 1209.9 912.9 1209.8 913.9 1209.6 914.8 1209.5 915.7 1209.5 916.6 1209.4 917.5 1209.4 918.5 1209.4 919.4 1209.4 920.3 1209.5 921.2 1209.6 922.1 1209.7 923.1 1209.8 924.0 1210.0 924.9 1210.2 925.8 1210.4 926.7 1210.6 927.7 1210.9 928.6 1211.2 929.5 1211.4 930.4 1211.7 931.4 1212.0 932.3 1212.4 933.2 1212.7 934.1 1213.0 935.0 1213.3 936.0 1213.7 936.9 1214.0 937.8 1214.3 938.7 1214.7 939.6 1215.0 940.6 1215.3 941.5 1215.6 942.4 1215.9 943.3 1216.3 944.2 1216.6 945.2 1216.9 946.1 1217.1 947.0 1217.4 947.9 1217.7 948.8 1217.9 949.8 1218.2 950.7 1218.4 951.6 1218.7 952.5 1218.9 953.4 1219.1 954.4 1219.3 955.3 1219.5 956.2 1219.7 957.1 1219.9 958.0 1220.0 959.0 1220.2 959.9 1220.4 960.8 1220.5 961.7 1220.6 962.7 1220.8 963.6 1220.9 964.5 1221.0 965.4 1221.1 966.3 1221.2 967.3 1221.3 968.2 1221.4 969.1 1221.5 970.0 1221.5 970.9 1221.6 971.9 1221.7 972.8 1221.7 973.7 1221.8 974.6 1221.9 975.5 1221.9 976.5 1222.0 977.4 1222.0 978.3 1222.0 979.2 1222.1 980.1 1222.1 981.1 1222.2 982.0 1222.2 982.9 1222.2 983.8 1222.3 984.7 1222.3 985.7 1222.3 986.6 1222.3 987.5 1222.4 988.4 1222.4 989.3 1222.4 990.3 1222.4 991.2 1222.4 992.1 1222.5 993.0 1222.5 994.0 1222.5 994.9 1222.5 995.8 1222.5 996.7 1222.5 997.6 1222.6 998.6 1222.6 999.5 1222.6 1000.4 1222.6 1001.3 1222.6 1002.2 1222.6 1003.2 1222.6 1004.1 1222.7 1005.0 1222.7 1005.9 1222.7 1006.8 1222.7 1007.8 1222.7 1008.7 1222.7 1009.6 1222.7 1010.5 1222.7 1011.4 1222.7 1012.4 1222.7 1013.3 1222.8 1014.2 1222.8 1015.1 1222.8 1016.0 1222.8 1017.0 1222.8 1017.9 1222.8 1018.8 1222.8 1019.7 1222.8 1020.7 1222.8 1021.6 1222.8 1022.5 1222.8 1023.4 1222.8 1024.3 1222.8 1025.3 1222.9 1026.2 1222.9" stroke="#f00" stroke-width="5" stroke-linejoin="round" fill="none"/></g>
<g font-family="'Liberation Sans', Arial, sans-serif" font-size="44" fill="#000">
<text x="103.4" y="457.60" text-anchor="end">0</text>
<text x="103.4" y="360.25" text-anchor="end">1</text>
<text x="103.4" y="262.90" text-anchor="end">2</text>
<text x="103.4" y="165.55" text-anchor="end">3</text>
<text x="103.4" y="848.75" text-anchor="end">0</text>
<text x="103.4" y="717.30" text-anchor="end">1</text>
<text x="103.4" y="585.85" text-anchor="end">2</text>
<text x="103.4" y="1241.15" text-anchor="end">0.0</text>
<text x="103.4" y="1131.15" text-anchor="end">0.5</text>
<text x="103.4" y="1021.15" text-anchor="end">1.0</text>
<text x="103.4" y="911.15" text-anchor="end">1.5</text>
<text x="176.60" y="1283.8" text-anchor="middle">-100</text>
<text x="360.73" y="1283.8" text-anchor="middle">-50</text>
<text x="544.85" y="1283.8" text-anchor="middle">0</text>
<text x="728.98" y="1283.8" text-anchor="middle">50</text>
<text x="913.10" y="1283.8" text-anchor="middle">100</text>
<text x="169.9" y="140.6" letter-spacing="-0.43">r = 1.55</text>
<text x="168.6" y="529" letter-spacing="-0.43">r = 0.83</text>
<text x="168.6" y="925.6" letter-spacing="-0.43">r = 0.38</text>
<text x="464.2" y="905.2">(3,2)</text>
<text x="173.8" y="1101.9">(3,1)</text>
<text x="276.7" y="1138">(2,0)</text>
<text x="332.9" y="1066">(2,1)</text>
<text x="731.4" y="1017.5">(3,3)</text>
<text x="875.5" y="1130.8">(2,3)</text>
<text transform="translate(31.1 970.9) rotate(-90)" font-size="43.15">Fluorescence intensity (arb. units)</text>
<text x="482.6" y="1357.4" font-size="44.7" font-family="'Liberation Serif', serif">Δ</text><text x="512" y="1358" font-size="47" font-family="'Liberation Serif', serif">ν</text><text x="543.8" y="1357.4" font-size="43">(MHz)</text>
<text x="502" y="19.5" font-size="28">87</text><text x="533" y="42.9" font-size="47">Rb</text>
</g>
<path d="M457.4 864.6V909.6M267.6 1095.1V1140.2M321.1 1150.2V1195.1M408.9 1084V1129.4M777.5 1029.2V1073.7M918.8 1145.3V1190.9" stroke="#000" stroke-width="1.8" fill="none"/>
</svg>
</body></html>
